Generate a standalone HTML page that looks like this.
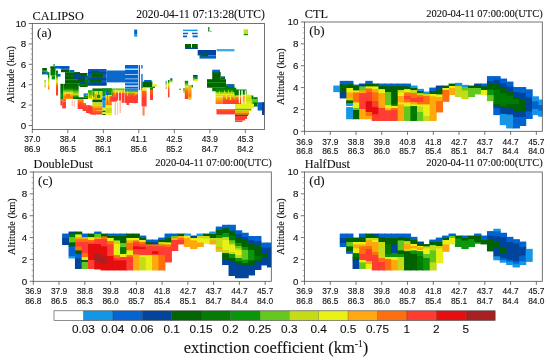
<!DOCTYPE html>
<html><head><meta charset="utf-8"><title>extinction coefficient</title>
<style>
html,body{margin:0;padding:0;background:#fff;}
svg{display:block}
.t{font-family:"Liberation Serif",serif;fill:#111;stroke:#111;stroke-width:0.1px}
.s{font-family:"Liberation Sans",sans-serif;fill:#111;stroke:#111;stroke-width:0.12px}
</style></head><body>
<svg width="550" height="361" viewBox="0 0 550 361">
<defs>
<clipPath id="ca"><rect x="32.3" y="23.5" width="232.2" height="106.1"/></clipPath>
<clipPath id="cb"><rect x="304.5" y="22" width="237.8" height="109.3"/></clipPath>
<clipPath id="cc"><rect x="33.3" y="172" width="238" height="109.3"/></clipPath>
<clipPath id="cd"><rect x="304.5" y="172" width="237.8" height="109.3"/></clipPath>
<filter id="bl" x="-2%" y="-2%" width="104%" height="104%"><feGaussianBlur stdDeviation="0.45"/></filter>
<linearGradient id="g0" x1="0" y1="0" x2="0" y2="1"><stop offset="0.00" stop-color="#64c81e"/><stop offset="0.50" stop-color="#e9f014"/><stop offset="1.00" stop-color="#ffa80f"/></linearGradient>
<linearGradient id="g1" x1="0" y1="0" x2="0" y2="1"><stop offset="0.00" stop-color="#057a05"/><stop offset="0.25" stop-color="#0a960a"/><stop offset="0.45" stop-color="#c3dc14"/><stop offset="0.65" stop-color="#e9f014"/><stop offset="1.00" stop-color="#ff6e0f"/></linearGradient>
<linearGradient id="g2" x1="0" y1="0" x2="0" y2="1"><stop offset="0.00" stop-color="#057a05"/><stop offset="0.20" stop-color="#0a960a"/><stop offset="0.35" stop-color="#c3dc14"/><stop offset="0.45" stop-color="#e9f014"/><stop offset="0.60" stop-color="#ff6e0f"/><stop offset="0.75" stop-color="#ff3c30"/><stop offset="1.00" stop-color="#ff3c30"/></linearGradient>
<linearGradient id="g3" x1="0" y1="0" x2="0" y2="1"><stop offset="0.00" stop-color="#036403"/><stop offset="0.50" stop-color="#057a05"/><stop offset="0.80" stop-color="#0a960a"/><stop offset="1.00" stop-color="#057a05"/></linearGradient>
<linearGradient id="g4" x1="0" y1="0" x2="0" y2="1"><stop offset="0.00" stop-color="#036403"/><stop offset="0.30" stop-color="#057a05"/><stop offset="0.48" stop-color="#64c81e"/><stop offset="0.60" stop-color="#e9f014"/><stop offset="0.75" stop-color="#ffa80f"/><stop offset="0.88" stop-color="#ff6e0f"/><stop offset="1.00" stop-color="#ffa80f"/></linearGradient>
<linearGradient id="g5" x1="0" y1="0" x2="0" y2="1"><stop offset="0.00" stop-color="#036403"/><stop offset="0.35" stop-color="#057a05"/><stop offset="0.55" stop-color="#64c81e"/><stop offset="0.70" stop-color="#c3dc14"/><stop offset="0.85" stop-color="#0a960a"/><stop offset="1.00" stop-color="#036403"/></linearGradient>
<linearGradient id="g6" x1="0" y1="0" x2="0" y2="1"><stop offset="0.00" stop-color="#ff6e0f"/><stop offset="0.40" stop-color="#ff3c30"/><stop offset="1.00" stop-color="#ff3c30"/></linearGradient>
<linearGradient id="g7" x1="0" y1="0" x2="0" y2="1"><stop offset="0.00" stop-color="#ffa80f"/><stop offset="0.30" stop-color="#ff6e0f"/><stop offset="0.60" stop-color="#ff3c30"/><stop offset="1.00" stop-color="#ff3c30"/></linearGradient>
<linearGradient id="g8" x1="0" y1="0" x2="0" y2="1"><stop offset="0.00" stop-color="#ff6e0f"/><stop offset="0.50" stop-color="#ff3c30"/><stop offset="1.00" stop-color="#ff3c30"/></linearGradient>
<linearGradient id="g9" x1="0" y1="0" x2="0" y2="1"><stop offset="0.00" stop-color="#0a960a"/><stop offset="0.40" stop-color="#c3dc14"/><stop offset="1.00" stop-color="#e9f014"/></linearGradient>
<linearGradient id="g10" x1="0" y1="0" x2="0" y2="1"><stop offset="0.00" stop-color="#ff6e0f"/><stop offset="1.00" stop-color="#ff3c30"/></linearGradient>
<linearGradient id="g11" x1="0" y1="0" x2="0" y2="1"><stop offset="0.00" stop-color="#e9f014"/><stop offset="0.50" stop-color="#ffa80f"/><stop offset="1.00" stop-color="#ff6e0f"/></linearGradient>
<linearGradient id="g12" x1="0" y1="0" x2="0" y2="1"><stop offset="0.00" stop-color="#e9f014"/><stop offset="1.00" stop-color="#ffa80f"/></linearGradient>
<linearGradient id="g13" x1="0" y1="0" x2="0" y2="1"><stop offset="0.00" stop-color="#0a960a"/><stop offset="1.00" stop-color="#e9f014"/></linearGradient>
<linearGradient id="g14" x1="0" y1="0" x2="0" y2="1"><stop offset="0.00" stop-color="#ff6e0f"/><stop offset="0.60" stop-color="#ff3c30"/><stop offset="1.00" stop-color="#ff3c30"/></linearGradient>
<linearGradient id="g15" x1="0" y1="0" x2="0" y2="1"><stop offset="0.00" stop-color="#0564d2"/><stop offset="0.30" stop-color="#0a960a"/><stop offset="0.60" stop-color="#e9f014"/><stop offset="1.00" stop-color="#ff3c30"/></linearGradient>
<linearGradient id="g16" x1="0" y1="0" x2="0" y2="1"><stop offset="0.00" stop-color="#057a05"/><stop offset="0.10" stop-color="#0a960a"/><stop offset="0.25" stop-color="#e9f014"/><stop offset="0.50" stop-color="#ff6e0f"/><stop offset="0.80" stop-color="#ff3c30"/><stop offset="1.00" stop-color="#ff3c30"/></linearGradient>
<linearGradient id="g17" x1="0" y1="0" x2="0" y2="1"><stop offset="0.00" stop-color="#03459b"/><stop offset="0.40" stop-color="#0a960a"/><stop offset="1.00" stop-color="#e9f014"/></linearGradient>
<linearGradient id="g18" x1="0" y1="0" x2="0" y2="1"><stop offset="0.00" stop-color="#057a05"/><stop offset="0.10" stop-color="#0a960a"/><stop offset="0.30" stop-color="#e9f014"/><stop offset="0.55" stop-color="#ff6e0f"/><stop offset="0.90" stop-color="#ff3c30"/><stop offset="1.00" stop-color="#ff3c30"/></linearGradient>
<linearGradient id="g19" x1="0" y1="0" x2="0" y2="1"><stop offset="0.00" stop-color="#c3dc14"/><stop offset="0.30" stop-color="#ffa80f"/><stop offset="0.70" stop-color="#ff6e0f"/><stop offset="1.00" stop-color="#e9f014"/></linearGradient>
<linearGradient id="g20" x1="0" y1="0" x2="0" y2="1"><stop offset="0.00" stop-color="#057a05"/><stop offset="1.00" stop-color="#0a960a"/></linearGradient>
<linearGradient id="g21" x1="0" y1="0" x2="0" y2="1"><stop offset="0.00" stop-color="#64c81e"/><stop offset="0.60" stop-color="#e9f014"/><stop offset="1.00" stop-color="#ffa80f"/></linearGradient>
<linearGradient id="g22" x1="0" y1="0" x2="0" y2="1"><stop offset="0.00" stop-color="#e9f014"/><stop offset="0.40" stop-color="#ffa80f"/><stop offset="1.00" stop-color="#ff6e0f"/></linearGradient>
<linearGradient id="g23" x1="0" y1="0" x2="0" y2="1"><stop offset="0.00" stop-color="#ffa80f"/><stop offset="0.30" stop-color="#ff6e0f"/><stop offset="0.70" stop-color="#ff3c30"/><stop offset="1.00" stop-color="#ff3c30"/></linearGradient>
<linearGradient id="g24" x1="0" y1="0" x2="0" y2="1"><stop offset="0.00" stop-color="#e9f014"/><stop offset="0.50" stop-color="#c3dc14"/><stop offset="1.00" stop-color="#e9f014"/></linearGradient>
</defs>
<rect width="550" height="361" fill="#fff"/>
<g filter="url(#bl)">
<g clip-path="url(#ca)"><rect x="42.2" y="68.0" width="4.70" height="2.80" fill="#036403"/>
<rect x="42.2" y="70.8" width="4.70" height="0.60" fill="#0a960a"/>
<rect x="42.2" y="71.4" width="4.70" height="3.00" fill="#0564d2"/>
<rect x="42.2" y="71.4" width="1.30" height="3.00" fill="#057a05"/>
<rect x="44.4" y="80.0" width="1.40" height="7.20" fill="url(#g0)"/>
<rect x="46.9" y="71.5" width="1.10" height="3.50" fill="#0a960a"/>
<rect x="48.0" y="72.2" width="1.40" height="17.20" fill="url(#g1)"/>
<rect x="50.5" y="66.6" width="5.00" height="8.90" fill="#057a05"/>
<rect x="51.7" y="75.5" width="3.30" height="3.90" fill="#0a960a"/>
<rect x="50.5" y="66.4" width="3.50" height="2.00" fill="#036403"/>
<rect x="53.5" y="63.9" width="1.10" height="2.70" fill="#057a05"/>
<rect x="54.8" y="66.0" width="14.60" height="2.60" fill="#0564d2"/>
<rect x="60.0" y="67.3" width="9.40" height="1.30" fill="#03459b"/>
<rect x="56.0" y="70.5" width="2.00" height="25.00" fill="url(#g2)"/>
<rect x="57.7" y="73.9" width="2.80" height="2.70" fill="#0564d2"/>
<rect x="61.0" y="69.2" width="8.40" height="3.00" fill="#036403"/>
<rect x="65.0" y="72.2" width="15.00" height="11.60" fill="#036403"/>
<rect x="69.4" y="70.0" width="4.90" height="2.20" fill="#0564d2"/>
<rect x="74.3" y="72.2" width="5.70" height="1.60" fill="#036403"/>
<rect x="74.3" y="73.8" width="5.70" height="5.00" fill="#03459b"/>
<rect x="65.0" y="75.0" width="9.00" height="1.20" fill="#057a05"/>
<rect x="65.0" y="79.0" width="13.00" height="1.20" fill="#0a960a"/>
<rect x="80.0" y="73.0" width="7.50" height="14.00" fill="#036403"/>
<rect x="78.0" y="76.0" width="9.50" height="2.50" fill="#03459b"/>
<rect x="80.0" y="81.0" width="7.50" height="2.50" fill="#03459b"/>
<rect x="60.4" y="83.8" width="3.10" height="15.20" fill="url(#g3)"/>
<rect x="63.5" y="83.8" width="9.50" height="15.20" fill="url(#g4)"/>
<rect x="73.0" y="83.8" width="5.70" height="15.20" fill="url(#g5)"/>
<rect x="66.0" y="94.0" width="4.00" height="3.50" fill="#ff6e0f"/>
<rect x="76.0" y="97.3" width="12.00" height="1.70" fill="#036403"/>
<rect x="78.7" y="84.0" width="9.30" height="2.20" fill="#057a05"/>
<rect x="83.7" y="93.4" width="12.30" height="3.90" fill="#0a960a"/>
<rect x="86.0" y="94.0" width="4.00" height="2.00" fill="#64c81e"/>
<rect x="83.7" y="94.0" width="4.30" height="1.20" fill="#1496e6"/>
<rect x="60.4" y="99.0" width="1.80" height="6.50" fill="url(#g6)"/>
<rect x="62.2" y="99.0" width="3.80" height="2.50" fill="#ff6e0f"/>
<rect x="62.2" y="101.5" width="3.80" height="6.90" fill="#ff3c30"/>
<rect x="71.8" y="100.6" width="0.70" height="5.40" fill="#ff8c70"/>
<rect x="73.8" y="100.6" width="0.70" height="6.40" fill="#ffa080"/>
<rect x="77.6" y="99.0" width="6.10" height="10.00" fill="url(#g7)"/>
<rect x="82.6" y="103.0" width="3.40" height="8.00" fill="url(#g8)"/>
<rect x="86.0" y="105.0" width="4.00" height="8.00" fill="url(#g8)"/>
<rect x="90.0" y="107.0" width="6.00" height="7.50" fill="url(#g8)"/>
<rect x="88.0" y="69.0" width="18.50" height="16.50" fill="#0a58be"/>
<rect x="88.0" y="72.0" width="18.50" height="1.50" fill="#03459b"/>
<rect x="88.0" y="78.0" width="18.50" height="2.00" fill="#03459b"/>
<rect x="88.0" y="83.0" width="18.50" height="2.50" fill="#03459b"/>
<rect x="91.0" y="71.0" width="8.00" height="1.50" fill="#036403"/>
<rect x="92.0" y="74.0" width="11.00" height="3.50" fill="#036403"/>
<rect x="90.0" y="80.0" width="11.00" height="2.50" fill="#036403"/>
<rect x="85.0" y="75.8" width="3.30" height="9.20" fill="#057a05"/>
<rect x="85.0" y="78.0" width="3.30" height="2.00" fill="#0564d2"/>
<rect x="106.5" y="70.5" width="18.50" height="11.90" fill="#0868cc"/>
<rect x="125.0" y="65.0" width="13.30" height="25.70" fill="#0564d2"/>
<rect x="125.0" y="68.6" width="13.30" height="1.20" fill="#e8f2fc"/>
<rect x="125.0" y="74.0" width="13.30" height="1.00" fill="#9cc8f2"/>
<rect x="125.0" y="78.4" width="13.30" height="0.90" fill="#9cc8f2"/>
<rect x="125.0" y="82.4" width="13.30" height="0.90" fill="#b8d8f6"/>
<rect x="125.0" y="85.3" width="13.30" height="1.50" fill="#c8e0f8"/>
<rect x="125.0" y="88.5" width="13.30" height="0.70" fill="#9cc8f2"/>
<rect x="139.0" y="65.0" width="1.00" height="25.00" fill="#0564d2"/>
<rect x="141.3" y="65.0" width="1.30" height="3.50" fill="#0564d2"/>
<rect x="92.4" y="88.4" width="19.40" height="2.80" fill="#057a05"/>
<rect x="88.0" y="90.6" width="4.40" height="0.90" fill="#057a05"/>
<rect x="88.0" y="90.6" width="4.40" height="8.40" fill="url(#g9)"/>
<rect x="92.4" y="91.2" width="10.00" height="7.80" fill="#c3dc14"/>
<rect x="90.0" y="92.0" width="4.00" height="3.00" fill="#64c81e"/>
<rect x="95.0" y="91.5" width="4.00" height="2.50" fill="#e9f014"/>
<rect x="97.0" y="95.0" width="4.00" height="3.00" fill="#0a960a"/>
<rect x="89.0" y="96.0" width="4.00" height="3.00" fill="#e9f014"/>
<rect x="92.4" y="99.0" width="10.00" height="1.00" fill="#64c81e"/>
<rect x="92.4" y="100.0" width="10.00" height="2.30" fill="#036403"/>
<rect x="92.4" y="102.3" width="10.00" height="3.30" fill="#c3dc14"/>
<rect x="92.4" y="105.6" width="10.00" height="5.00" fill="#ffa80f"/>
<rect x="92.4" y="108.0" width="10.00" height="2.00" fill="#ff6e0f"/>
<rect x="92.4" y="110.6" width="10.00" height="3.90" fill="url(#g10)"/>
<rect x="88.0" y="105.6" width="4.40" height="7.80" fill="#ff3c30"/>
<rect x="102.4" y="88.4" width="3.30" height="7.80" fill="#0a960a"/>
<rect x="102.4" y="96.2" width="3.30" height="11.60" fill="#1496e6"/>
<rect x="102.4" y="98.0" width="3.30" height="2.00" fill="#0564d2"/>
<rect x="102.4" y="107.8" width="3.30" height="2.80" fill="#e9f014"/>
<rect x="102.4" y="110.6" width="3.30" height="1.70" fill="#057a05"/>
<rect x="102.4" y="112.3" width="3.30" height="1.70" fill="#e9f014"/>
<rect x="102.4" y="114.0" width="3.30" height="1.00" fill="#036403"/>
<rect x="105.7" y="88.4" width="6.10" height="6.60" fill="#0a960a"/>
<rect x="106.0" y="90.6" width="2.50" height="7.80" fill="#0564d2"/>
<rect x="105.7" y="95.0" width="6.10" height="10.00" fill="url(#g11)"/>
<rect x="105.7" y="105.0" width="6.10" height="2.80" fill="#e9f014"/>
<rect x="105.7" y="107.8" width="6.10" height="5.60" fill="#c3dc14"/>
<rect x="105.7" y="113.4" width="6.10" height="1.60" fill="#e9f014"/>
<rect x="111.8" y="88.4" width="12.80" height="2.10" fill="#64c81e"/>
<rect x="111.8" y="90.5" width="12.80" height="2.50" fill="url(#g12)"/>
<rect x="111.8" y="93.0" width="6.20" height="3.20" fill="#ff6e0f"/>
<rect x="110.2" y="96.2" width="6.60" height="5.50" fill="#ff3c30"/>
<rect x="116.2" y="93.0" width="5.00" height="7.60" fill="#ff3c30"/>
<rect x="121.2" y="93.0" width="3.40" height="9.80" fill="#ff3c30"/>
<rect x="118.0" y="91.0" width="0.80" height="10.00" fill="#ffffff"/>
<rect x="121.0" y="92.0" width="0.60" height="11.00" fill="#ffffff"/>
<rect x="114.6" y="101.7" width="1.40" height="13.30" fill="#ffc890"/>
<rect x="117.0" y="102.0" width="1.20" height="13.00" fill="#ffd0a0"/>
<rect x="119.5" y="101.0" width="1.50" height="12.00" fill="#ffc0a0"/>
<rect x="125.0" y="90.7" width="13.00" height="2.30" fill="url(#g13)"/>
<rect x="125.0" y="93.0" width="13.00" height="10.00" fill="url(#g6)"/>
<rect x="126.5" y="103.0" width="2.70" height="2.00" fill="#ff3c30"/>
<rect x="133.0" y="100.0" width="3.50" height="3.20" fill="#ff3c30"/>
<rect x="89.5" y="91.5" width="0.80" height="6.50" fill="#0a960a"/>
<rect x="91.2" y="92.0" width="0.60" height="7.00" fill="#64c81e"/>
<rect x="93.5" y="91.2" width="0.70" height="5.80" fill="#057a05"/>
<rect x="96.0" y="92.0" width="0.60" height="7.00" fill="#ffa80f"/>
<rect x="98.2" y="91.2" width="0.70" height="4.80" fill="#0a960a"/>
<rect x="100.3" y="93.0" width="0.70" height="6.00" fill="#e9f014"/>
<rect x="94.8" y="94.0" width="0.70" height="5.00" fill="#ff6e0f"/>
<rect x="107.0" y="95.0" width="0.60" height="9.00" fill="#ff3c30"/>
<rect x="109.5" y="96.0" width="0.60" height="9.00" fill="#ff6e0f"/>
<rect x="112.5" y="90.0" width="0.60" height="6.00" fill="#0a960a"/>
<rect x="115.0" y="89.0" width="0.60" height="6.00" fill="#e9f014"/>
<rect x="123.0" y="89.0" width="0.60" height="5.00" fill="#64c81e"/>
<rect x="127.0" y="91.0" width="0.60" height="5.00" fill="#e9f014"/>
<rect x="130.5" y="90.7" width="0.60" height="4.30" fill="#64c81e"/>
<rect x="134.0" y="91.0" width="0.60" height="5.00" fill="#ffa80f"/>
<rect x="135.0" y="93.2" width="2.50" height="0.90" fill="#e9f014"/>
<rect x="141.3" y="74.0" width="1.30" height="11.00" fill="#0564d2"/>
<rect x="141.3" y="85.0" width="1.30" height="5.70" fill="#057a05"/>
<rect x="144.1" y="80.0" width="7.50" height="2.40" fill="#0564d2"/>
<rect x="142.5" y="81.6" width="9.90" height="5.80" fill="#036403"/>
<rect x="152.4" y="84.0" width="4.20" height="2.60" fill="#e9f014"/>
<rect x="152.4" y="86.6" width="2.60" height="1.40" fill="#0a960a"/>
<rect x="141.6" y="88.2" width="5.00" height="2.50" fill="#e9f014"/>
<rect x="141.6" y="90.7" width="5.00" height="15.80" fill="url(#g8)"/>
<rect x="142.5" y="106.5" width="2.10" height="9.10" fill="#ff8060"/>
<rect x="150.0" y="87.4" width="3.00" height="2.60" fill="#0a960a"/>
<rect x="150.0" y="90.0" width="3.00" height="10.00" fill="url(#g14)"/>
<rect x="165.7" y="80.8" width="0.90" height="8.20" fill="url(#g15)"/>
<rect x="168.0" y="80.0" width="1.50" height="17.40" fill="url(#g16)"/>
<rect x="170.2" y="78.3" width="2.20" height="4.10" fill="url(#g17)"/>
<rect x="179.5" y="88.6" width="1.20" height="1.40" fill="#057a05"/>
<rect x="183.2" y="88.2" width="1.60" height="5.00" fill="url(#g13)"/>
<rect x="184.8" y="80.8" width="3.40" height="18.20" fill="url(#g18)"/>
<rect x="188.2" y="85.0" width="3.30" height="15.00" fill="url(#g19)"/>
<rect x="191.5" y="85.0" width="1.50" height="2.40" fill="#0a960a"/>
<rect x="193.0" y="75.0" width="2.00" height="5.80" fill="url(#g17)"/>
<rect x="134.2" y="29.6" width="3.00" height="5.10" fill="#0564d2"/>
<rect x="134.2" y="34.7" width="3.00" height="2.00" fill="#1496e6"/>
<rect x="183.0" y="29.6" width="14.70" height="1.50" fill="#1496e6"/>
<rect x="183.0" y="32.7" width="5.00" height="1.50" fill="#0564d2"/>
<rect x="192.0" y="32.7" width="5.70" height="1.50" fill="#0564d2"/>
<rect x="183.0" y="35.5" width="4.00" height="1.80" fill="#0564d2"/>
<rect x="192.6" y="35.5" width="5.10" height="1.80" fill="#0564d2"/>
<rect x="185.0" y="44.0" width="6.00" height="5.00" fill="#036403"/>
<rect x="192.0" y="44.0" width="5.70" height="5.00" fill="#036403"/>
<rect x="185.0" y="47.5" width="12.70" height="1.50" fill="#03459b"/>
<rect x="197.7" y="50.0" width="18.30" height="5.50" fill="#03459b"/>
<rect x="199.5" y="55.5" width="16.50" height="3.10" fill="#0564d2"/>
<rect x="200.5" y="54.3" width="7.50" height="2.00" fill="#036403"/>
<rect x="216.7" y="49.0" width="17.80" height="2.40" fill="#3aaef0"/>
<rect x="208.2" y="27.0" width="1.20" height="4.60" fill="#057a05"/>
<rect x="210.5" y="30.8" width="0.80" height="1.20" fill="#0564d2"/>
<rect x="243.7" y="29.0" width="4.30" height="5.00" fill="#c3dc14"/>
<rect x="243.7" y="34.0" width="4.30" height="1.20" fill="#0a960a"/>
<rect x="243.7" y="29.0" width="4.30" height="1.20" fill="#d8e860"/>
<rect x="195.0" y="75.0" width="2.60" height="2.00" fill="#03459b"/>
<rect x="195.0" y="77.0" width="2.60" height="2.50" fill="#0a960a"/>
<rect x="195.0" y="79.5" width="2.60" height="1.50" fill="#e9f014"/>
<rect x="212.2" y="72.0" width="8.50" height="9.00" fill="#036403"/>
<rect x="212.2" y="69.7" width="7.80" height="2.60" fill="#0564d2"/>
<rect x="207.0" y="79.2" width="19.00" height="8.50" fill="#036403"/>
<rect x="207.0" y="82.0" width="19.00" height="1.00" fill="#0a960a"/>
<rect x="220.7" y="76.6" width="4.30" height="2.60" fill="#036403"/>
<rect x="220.7" y="76.6" width="4.30" height="1.40" fill="#0564d2"/>
<rect x="212.2" y="87.7" width="4.30" height="3.50" fill="#057a05"/>
<rect x="225.0" y="84.3" width="9.50" height="5.20" fill="#057a05"/>
<rect x="226.8" y="84.3" width="6.80" height="2.60" fill="#0564d2"/>
<rect x="215.6" y="87.7" width="20.60" height="4.30" fill="url(#g20)"/>
<rect x="215.6" y="92.0" width="20.60" height="4.30" fill="url(#g21)"/>
<rect x="224.0" y="90.5" width="0.80" height="2.50" fill="#e9f014"/>
<rect x="228.0" y="90.0" width="0.80" height="3.00" fill="#c3dc14"/>
<rect x="231.5" y="90.5" width="0.80" height="2.50" fill="#e9f014"/>
<rect x="219.0" y="91.0" width="0.80" height="2.00" fill="#c3dc14"/>
<rect x="234.5" y="89.5" width="12.00" height="6.00" fill="#057a05"/>
<rect x="246.5" y="95.5" width="6.90" height="3.50" fill="#057a05"/>
<rect x="253.4" y="97.2" width="4.20" height="5.10" fill="#057a05"/>
<rect x="215.6" y="96.3" width="6.90" height="7.70" fill="url(#g22)"/>
<rect x="222.5" y="96.3" width="18.80" height="7.70" fill="url(#g23)"/>
<rect x="226.0" y="95.0" width="1.00" height="4.00" fill="#e9f014"/>
<rect x="230.0" y="96.0" width="1.00" height="4.00" fill="#e9f014"/>
<rect x="234.0" y="95.0" width="1.00" height="4.00" fill="#c3dc14"/>
<rect x="241.3" y="94.6" width="10.30" height="9.40" fill="url(#g24)"/>
<rect x="241.3" y="96.0" width="4.40" height="6.00" fill="#ffa80f"/>
<rect x="238.8" y="90.3" width="1.20" height="12.90" fill="#ffffff"/>
<rect x="241.3" y="90.3" width="1.40" height="12.90" fill="#ffffff"/>
<rect x="244.8" y="90.3" width="1.00" height="12.90" fill="#ffffff"/>
<rect x="251.6" y="99.0" width="6.00" height="5.00" fill="#64c81e"/>
<rect x="253.4" y="102.3" width="4.20" height="4.30" fill="#057a05"/>
<rect x="257.6" y="102.3" width="7.40" height="8.20" fill="#0564d2"/>
<rect x="262.0" y="102.3" width="3.00" height="12.70" fill="#03459b"/>
<rect x="216.5" y="109.2" width="18.80" height="5.20" fill="#ff3c30"/>
<rect x="216.5" y="109.2" width="18.80" height="1.30" fill="#ff6e0f"/>
<rect x="235.0" y="104.0" width="19.00" height="4.20" fill="#e9f014"/>
<rect x="235.0" y="108.2" width="16.50" height="2.80" fill="#c3dc14"/>
<rect x="235.0" y="109.4" width="16.00" height="0.60" fill="#0a960a"/>
<rect x="235.0" y="111.0" width="14.00" height="3.70" fill="#ffa80f"/>
<rect x="235.0" y="113.0" width="14.00" height="1.70" fill="#ff6e0f"/>
<rect x="235.0" y="114.7" width="13.00" height="1.30" fill="#057a05"/>
<rect x="235.0" y="116.0" width="12.00" height="3.00" fill="#ff3c30"/>
<rect x="235.0" y="119.0" width="10.00" height="1.50" fill="#ff3c30"/>
<rect x="235.0" y="120.5" width="7.50" height="1.50" fill="#ff3c30"/></g>
<g clip-path="url(#cb)"><rect x="333.35" y="85.55" width="7.30" height="6.60" fill="#1496e6"/>
<rect x="339.75" y="80.85" width="7.30" height="4.20" fill="#0564d2"/>
<rect x="339.75" y="84.15" width="7.30" height="8.90" fill="#036403"/>
<rect x="339.75" y="92.15" width="7.30" height="6.30" fill="#03459b"/>
<rect x="346.15" y="80.85" width="7.30" height="3.60" fill="#0564d2"/>
<rect x="346.15" y="83.55" width="7.30" height="4.90" fill="#036403"/>
<rect x="346.15" y="87.55" width="7.30" height="5.50" fill="#e9f014"/>
<rect x="346.15" y="92.15" width="7.30" height="6.90" fill="#ffa80f"/>
<rect x="346.15" y="98.15" width="7.30" height="2.90" fill="#c3dc14"/>
<rect x="346.15" y="100.15" width="7.30" height="3.60" fill="#036403"/>
<rect x="346.15" y="102.85" width="7.30" height="3.10" fill="#1496e6"/>
<rect x="346.15" y="107.15" width="7.30" height="12.10" fill="#1496e6"/>
<rect x="352.55" y="84.55" width="7.30" height="1.90" fill="#0564d2"/>
<rect x="352.55" y="85.55" width="7.30" height="5.50" fill="#036403"/>
<rect x="352.55" y="90.15" width="7.30" height="2.90" fill="#e9f014"/>
<rect x="352.55" y="92.15" width="7.30" height="10.90" fill="#ff6e0f"/>
<rect x="352.55" y="102.15" width="7.30" height="6.30" fill="#e9f014"/>
<rect x="352.55" y="107.55" width="7.30" height="2.90" fill="#64c81e"/>
<rect x="352.55" y="109.55" width="7.30" height="9.70" fill="#036403"/>
<rect x="358.95" y="83.55" width="7.30" height="3.50" fill="#03459b"/>
<rect x="358.95" y="86.15" width="7.30" height="4.90" fill="#64c81e"/>
<rect x="358.95" y="90.15" width="7.30" height="3.60" fill="#ffa80f"/>
<rect x="358.95" y="92.85" width="7.30" height="16.80" fill="#ff3c30"/>
<rect x="358.95" y="108.75" width="7.30" height="10.50" fill="#ffa80f"/>
<rect x="365.35" y="80.85" width="7.30" height="3.60" fill="#0564d2"/>
<rect x="365.35" y="83.55" width="7.30" height="3.50" fill="#036403"/>
<rect x="365.35" y="86.15" width="7.30" height="2.90" fill="#e9f014"/>
<rect x="365.35" y="88.15" width="7.30" height="4.90" fill="#ff6e0f"/>
<rect x="365.35" y="92.15" width="7.30" height="9.60" fill="#ff3c30"/>
<rect x="365.35" y="100.85" width="7.30" height="11.60" fill="#e60f0f"/>
<rect x="365.35" y="111.55" width="7.30" height="4.90" fill="#ff6e0f"/>
<rect x="365.35" y="115.55" width="7.30" height="3.70" fill="#ffa80f"/>
<rect x="371.75" y="83.55" width="7.30" height="3.50" fill="#036403"/>
<rect x="371.75" y="86.15" width="7.30" height="3.60" fill="#e9f014"/>
<rect x="371.75" y="88.85" width="7.30" height="4.20" fill="#ffa80f"/>
<rect x="371.75" y="92.15" width="7.30" height="9.60" fill="#ff6e0f"/>
<rect x="371.75" y="100.85" width="7.30" height="6.90" fill="#ff3c30"/>
<rect x="371.75" y="106.85" width="7.30" height="8.20" fill="#e60f0f"/>
<rect x="371.75" y="114.15" width="7.30" height="6.80" fill="#ff3c30"/>
<rect x="378.15" y="83.55" width="7.30" height="2.90" fill="#0564d2"/>
<rect x="378.15" y="85.55" width="7.30" height="4.20" fill="#036403"/>
<rect x="378.15" y="88.85" width="7.30" height="4.90" fill="#e9f014"/>
<rect x="378.15" y="92.85" width="7.30" height="15.60" fill="#ffa80f"/>
<rect x="378.15" y="107.55" width="7.30" height="13.40" fill="#ff3c30"/>
<rect x="384.55" y="83.55" width="7.30" height="3.30" fill="#0564d2"/>
<rect x="384.55" y="85.95" width="7.30" height="6.50" fill="#036403"/>
<rect x="384.55" y="91.55" width="7.30" height="14.20" fill="#64c81e"/>
<rect x="384.55" y="104.85" width="7.30" height="4.20" fill="#e9f014"/>
<rect x="384.55" y="108.15" width="7.30" height="2.90" fill="#ffa80f"/>
<rect x="384.55" y="110.15" width="7.30" height="10.80" fill="#ff3c30"/>
<rect x="390.95" y="83.55" width="7.30" height="3.30" fill="#0564d2"/>
<rect x="390.95" y="85.95" width="7.30" height="19.10" fill="#036403"/>
<rect x="390.95" y="104.15" width="7.30" height="2.30" fill="#0a960a"/>
<rect x="390.95" y="105.55" width="7.30" height="2.90" fill="#e9f014"/>
<rect x="390.95" y="107.55" width="7.30" height="2.90" fill="#ff6e0f"/>
<rect x="390.95" y="109.55" width="7.30" height="11.40" fill="#ff3c30"/>
<rect x="397.35" y="83.55" width="7.30" height="3.30" fill="#0564d2"/>
<rect x="397.35" y="85.95" width="7.30" height="4.50" fill="#036403"/>
<rect x="397.35" y="89.55" width="7.30" height="3.50" fill="#c3dc14"/>
<rect x="397.35" y="92.15" width="7.30" height="4.30" fill="#e9f014"/>
<rect x="397.35" y="95.55" width="7.30" height="7.50" fill="#ffa80f"/>
<rect x="397.35" y="102.15" width="7.30" height="2.90" fill="#e9f014"/>
<rect x="397.35" y="104.15" width="7.30" height="16.80" fill="#ffa80f"/>
<rect x="403.75" y="83.55" width="7.30" height="3.30" fill="#0564d2"/>
<rect x="403.75" y="85.95" width="7.30" height="3.80" fill="#036403"/>
<rect x="403.75" y="88.85" width="7.30" height="4.20" fill="#e9f014"/>
<rect x="403.75" y="92.15" width="7.30" height="4.30" fill="#ff6e0f"/>
<rect x="403.75" y="95.55" width="7.30" height="4.20" fill="#ff3c30"/>
<rect x="403.75" y="98.85" width="7.30" height="4.20" fill="#ff6e0f"/>
<rect x="403.75" y="102.15" width="7.30" height="4.90" fill="#e9f014"/>
<rect x="403.75" y="106.15" width="7.30" height="14.80" fill="#64c81e"/>
<rect x="410.15" y="85.55" width="7.30" height="2.90" fill="#1496e6"/>
<rect x="410.15" y="87.55" width="7.30" height="2.90" fill="#036403"/>
<rect x="410.15" y="89.55" width="7.30" height="4.20" fill="#c3dc14"/>
<rect x="410.15" y="92.85" width="7.30" height="5.60" fill="#ff6e0f"/>
<rect x="410.15" y="97.55" width="7.30" height="4.90" fill="#ff3c30"/>
<rect x="410.15" y="101.55" width="7.30" height="3.50" fill="#ffa80f"/>
<rect x="410.15" y="104.15" width="7.30" height="2.30" fill="#e9f014"/>
<rect x="410.15" y="105.55" width="7.30" height="15.40" fill="#057a05"/>
<rect x="416.55" y="88.85" width="7.30" height="2.90" fill="#1496e6"/>
<rect x="416.55" y="90.85" width="7.30" height="2.90" fill="#036403"/>
<rect x="416.55" y="92.85" width="7.30" height="2.90" fill="#c3dc14"/>
<rect x="416.55" y="94.85" width="7.30" height="2.90" fill="#ff6e0f"/>
<rect x="416.55" y="96.85" width="7.30" height="5.60" fill="#ff3c30"/>
<rect x="416.55" y="101.55" width="7.30" height="3.50" fill="#ff6e0f"/>
<rect x="416.55" y="104.15" width="7.30" height="2.90" fill="#e9f014"/>
<rect x="416.55" y="106.15" width="7.30" height="6.30" fill="#c3dc14"/>
<rect x="416.55" y="111.55" width="7.30" height="9.40" fill="#64c81e"/>
<rect x="422.95" y="91.55" width="7.30" height="2.90" fill="#1496e6"/>
<rect x="422.95" y="93.55" width="7.30" height="2.90" fill="#c3dc14"/>
<rect x="422.95" y="95.55" width="7.30" height="9.50" fill="#ff6e0f"/>
<rect x="422.95" y="104.15" width="7.30" height="12.30" fill="#e9f014"/>
<rect x="422.95" y="115.55" width="7.30" height="5.40" fill="#c3dc14"/>
<rect x="429.35" y="87.55" width="7.30" height="4.20" fill="#0564d2"/>
<rect x="429.35" y="90.85" width="7.30" height="3.60" fill="#036403"/>
<rect x="429.35" y="93.55" width="7.30" height="3.50" fill="#e9f014"/>
<rect x="429.35" y="96.15" width="7.30" height="24.80" fill="#ffa80f"/>
<rect x="435.75" y="85.55" width="7.30" height="4.20" fill="#03459b"/>
<rect x="435.75" y="88.85" width="7.30" height="6.20" fill="#036403"/>
<rect x="435.75" y="94.15" width="7.30" height="3.60" fill="#e9f014"/>
<rect x="435.75" y="96.85" width="7.30" height="4.90" fill="#ffa80f"/>
<rect x="435.75" y="100.85" width="7.30" height="11.60" fill="#ff6e0f"/>
<rect x="442.15" y="85.55" width="7.30" height="2.90" fill="#036403"/>
<rect x="442.15" y="87.55" width="7.30" height="2.90" fill="#e9f014"/>
<rect x="442.15" y="89.55" width="7.30" height="12.20" fill="#ff6e0f"/>
<rect x="448.55" y="83.55" width="7.30" height="2.90" fill="#036403"/>
<rect x="448.55" y="85.55" width="7.30" height="2.90" fill="#e9f014"/>
<rect x="448.55" y="87.55" width="7.30" height="7.50" fill="#ffa80f"/>
<rect x="454.95" y="82.85" width="7.30" height="3.60" fill="#1496e6"/>
<rect x="454.95" y="85.55" width="7.30" height="11.50" fill="#c3dc14"/>
<rect x="461.35" y="84.85" width="7.30" height="2.90" fill="#1496e6"/>
<rect x="461.35" y="86.85" width="7.30" height="4.20" fill="#64c81e"/>
<rect x="461.35" y="90.15" width="7.30" height="8.90" fill="#c3dc14"/>
<rect x="467.75" y="85.55" width="7.30" height="2.90" fill="#036403"/>
<rect x="467.75" y="87.55" width="7.30" height="9.50" fill="#64c81e"/>
<rect x="474.15" y="83.55" width="7.30" height="2.90" fill="#03459b"/>
<rect x="474.15" y="85.55" width="7.30" height="2.90" fill="#036403"/>
<rect x="474.15" y="87.55" width="7.30" height="6.90" fill="#64c81e"/>
<rect x="480.55" y="83.55" width="7.30" height="3.50" fill="#0564d2"/>
<rect x="480.55" y="86.15" width="7.30" height="4.30" fill="#036403"/>
<rect x="480.55" y="89.55" width="7.30" height="5.50" fill="#e9f014"/>
<rect x="486.95" y="76.15" width="7.30" height="5.60" fill="#0564d2"/>
<rect x="486.95" y="80.85" width="7.30" height="3.20" fill="#03459b"/>
<rect x="486.95" y="83.15" width="7.30" height="7.10" fill="#036403"/>
<rect x="486.95" y="89.35" width="7.30" height="6.40" fill="#0a960a"/>
<rect x="486.95" y="94.85" width="7.30" height="6.30" fill="#64c81e"/>
<rect x="493.35" y="76.15" width="7.30" height="4.10" fill="#0564d2"/>
<rect x="493.35" y="79.35" width="7.30" height="5.50" fill="#03459b"/>
<rect x="493.35" y="83.95" width="7.30" height="6.30" fill="#036403"/>
<rect x="493.35" y="89.35" width="7.30" height="15.10" fill="#057a05"/>
<rect x="493.35" y="103.55" width="7.30" height="2.30" fill="#036403"/>
<rect x="493.35" y="104.95" width="7.30" height="4.00" fill="#03459b"/>
<rect x="493.35" y="108.05" width="7.30" height="7.10" fill="#0564d2"/>
<rect x="499.75" y="78.55" width="7.30" height="5.50" fill="#0564d2"/>
<rect x="499.75" y="83.15" width="7.30" height="5.60" fill="#03459b"/>
<rect x="499.75" y="87.85" width="7.30" height="5.90" fill="#036403"/>
<rect x="499.75" y="92.85" width="7.30" height="13.60" fill="#057a05"/>
<rect x="499.75" y="105.55" width="7.30" height="2.60" fill="#036403"/>
<rect x="499.75" y="107.25" width="7.30" height="7.10" fill="#03459b"/>
<rect x="499.75" y="113.45" width="7.30" height="11.70" fill="#1496e6"/>
<rect x="506.15" y="81.55" width="7.30" height="5.60" fill="#0564d2"/>
<rect x="506.15" y="86.25" width="7.30" height="6.40" fill="#03459b"/>
<rect x="506.15" y="91.75" width="7.30" height="4.40" fill="#036403"/>
<rect x="506.15" y="95.25" width="7.30" height="9.20" fill="#057a05"/>
<rect x="506.15" y="103.55" width="7.30" height="5.40" fill="#036403"/>
<rect x="506.15" y="108.05" width="7.30" height="7.10" fill="#03459b"/>
<rect x="506.15" y="114.25" width="7.30" height="14.20" fill="#1496e6"/>
<rect x="512.55" y="87.05" width="7.30" height="5.60" fill="#0564d2"/>
<rect x="512.55" y="91.75" width="7.30" height="6.30" fill="#03459b"/>
<rect x="512.55" y="97.15" width="7.30" height="2.60" fill="#036403"/>
<rect x="512.55" y="98.85" width="7.30" height="5.60" fill="#057a05"/>
<rect x="512.55" y="103.55" width="7.30" height="8.50" fill="#036403"/>
<rect x="512.55" y="111.15" width="7.30" height="6.30" fill="#03459b"/>
<rect x="512.55" y="116.55" width="7.30" height="11.90" fill="#0564d2"/>
<rect x="518.95" y="87.05" width="7.30" height="6.40" fill="#0564d2"/>
<rect x="518.95" y="92.55" width="7.30" height="7.90" fill="#03459b"/>
<rect x="518.95" y="99.55" width="7.30" height="12.50" fill="#036403"/>
<rect x="518.95" y="111.15" width="7.30" height="6.30" fill="#03459b"/>
<rect x="518.95" y="116.55" width="7.30" height="9.40" fill="#0564d2"/>
<rect x="525.35" y="89.35" width="7.30" height="8.70" fill="#0564d2"/>
<rect x="525.35" y="97.15" width="7.30" height="14.90" fill="#03459b"/>
<rect x="525.35" y="111.15" width="7.30" height="7.80" fill="#0564d2"/>
<rect x="531.75" y="96.35" width="7.30" height="5.60" fill="#1496e6"/>
<rect x="531.75" y="101.05" width="7.30" height="8.60" fill="#0564d2"/>
<rect x="531.75" y="108.75" width="7.30" height="6.40" fill="#1496e6"/>
<rect x="538.15" y="99.55" width="4.60" height="6.30" fill="#1496e6"/>
<rect x="538.15" y="104.95" width="4.60" height="6.30" fill="#0564d2"/>
<rect x="538.15" y="110.35" width="4.60" height="6.30" fill="#1496e6"/>
<rect x="333.80" y="86.00" width="6.40" height="5.70" fill="#1496e6"/>
<rect x="340.20" y="81.30" width="6.40" height="3.30" fill="#0564d2"/>
<rect x="340.20" y="84.60" width="6.40" height="8.00" fill="#036403"/>
<rect x="340.20" y="92.60" width="6.40" height="5.40" fill="#03459b"/>
<rect x="346.60" y="81.30" width="6.40" height="2.70" fill="#0564d2"/>
<rect x="346.60" y="84.00" width="6.40" height="4.00" fill="#036403"/>
<rect x="346.60" y="88.00" width="6.40" height="4.60" fill="#e9f014"/>
<rect x="346.60" y="92.60" width="6.40" height="6.00" fill="#ffa80f"/>
<rect x="346.60" y="98.60" width="6.40" height="2.00" fill="#c3dc14"/>
<rect x="346.60" y="100.60" width="6.40" height="2.70" fill="#036403"/>
<rect x="346.60" y="103.30" width="6.40" height="2.20" fill="#1496e6"/>
<rect x="346.60" y="107.60" width="6.40" height="11.20" fill="#1496e6"/>
<rect x="353.00" y="85.00" width="6.40" height="1.00" fill="#0564d2"/>
<rect x="353.00" y="86.00" width="6.40" height="4.60" fill="#036403"/>
<rect x="353.00" y="90.60" width="6.40" height="2.00" fill="#e9f014"/>
<rect x="353.00" y="92.60" width="6.40" height="10.00" fill="#ff6e0f"/>
<rect x="353.00" y="102.60" width="6.40" height="5.40" fill="#e9f014"/>
<rect x="353.00" y="108.00" width="6.40" height="2.00" fill="#64c81e"/>
<rect x="353.00" y="110.00" width="6.40" height="8.80" fill="#036403"/>
<rect x="359.40" y="84.00" width="6.40" height="2.60" fill="#03459b"/>
<rect x="359.40" y="86.60" width="6.40" height="4.00" fill="#64c81e"/>
<rect x="359.40" y="90.60" width="6.40" height="2.70" fill="#ffa80f"/>
<rect x="359.40" y="93.30" width="6.40" height="15.90" fill="#ff3c30"/>
<rect x="359.40" y="109.20" width="6.40" height="9.60" fill="#ffa80f"/>
<rect x="365.80" y="81.30" width="6.40" height="2.70" fill="#0564d2"/>
<rect x="365.80" y="84.00" width="6.40" height="2.60" fill="#036403"/>
<rect x="365.80" y="86.60" width="6.40" height="2.00" fill="#e9f014"/>
<rect x="365.80" y="88.60" width="6.40" height="4.00" fill="#ff6e0f"/>
<rect x="365.80" y="92.60" width="6.40" height="8.70" fill="#ff3c30"/>
<rect x="365.80" y="101.30" width="6.40" height="10.70" fill="#e60f0f"/>
<rect x="365.80" y="112.00" width="6.40" height="4.00" fill="#ff6e0f"/>
<rect x="365.80" y="116.00" width="6.40" height="2.80" fill="#ffa80f"/>
<rect x="372.20" y="84.00" width="6.40" height="2.60" fill="#036403"/>
<rect x="372.20" y="86.60" width="6.40" height="2.70" fill="#e9f014"/>
<rect x="372.20" y="89.30" width="6.40" height="3.30" fill="#ffa80f"/>
<rect x="372.20" y="92.60" width="6.40" height="8.70" fill="#ff6e0f"/>
<rect x="372.20" y="101.30" width="6.40" height="6.00" fill="#ff3c30"/>
<rect x="372.20" y="107.30" width="6.40" height="7.30" fill="#e60f0f"/>
<rect x="372.20" y="114.60" width="6.40" height="5.90" fill="#ff3c30"/>
<rect x="378.60" y="84.00" width="6.40" height="2.00" fill="#0564d2"/>
<rect x="378.60" y="86.00" width="6.40" height="3.30" fill="#036403"/>
<rect x="378.60" y="89.30" width="6.40" height="4.00" fill="#e9f014"/>
<rect x="378.60" y="93.30" width="6.40" height="14.70" fill="#ffa80f"/>
<rect x="378.60" y="108.00" width="6.40" height="12.50" fill="#ff3c30"/>
<rect x="385.00" y="84.00" width="6.40" height="2.40" fill="#0564d2"/>
<rect x="385.00" y="86.40" width="6.40" height="5.60" fill="#036403"/>
<rect x="385.00" y="92.00" width="6.40" height="13.30" fill="#64c81e"/>
<rect x="385.00" y="105.30" width="6.40" height="3.30" fill="#e9f014"/>
<rect x="385.00" y="108.60" width="6.40" height="2.00" fill="#ffa80f"/>
<rect x="385.00" y="110.60" width="6.40" height="9.90" fill="#ff3c30"/>
<rect x="391.40" y="84.00" width="6.40" height="2.40" fill="#0564d2"/>
<rect x="391.40" y="86.40" width="6.40" height="18.20" fill="#036403"/>
<rect x="391.40" y="104.60" width="6.40" height="1.40" fill="#0a960a"/>
<rect x="391.40" y="106.00" width="6.40" height="2.00" fill="#e9f014"/>
<rect x="391.40" y="108.00" width="6.40" height="2.00" fill="#ff6e0f"/>
<rect x="391.40" y="110.00" width="6.40" height="10.50" fill="#ff3c30"/>
<rect x="397.80" y="84.00" width="6.40" height="2.40" fill="#0564d2"/>
<rect x="397.80" y="86.40" width="6.40" height="3.60" fill="#036403"/>
<rect x="397.80" y="90.00" width="6.40" height="2.60" fill="#c3dc14"/>
<rect x="397.80" y="92.60" width="6.40" height="3.40" fill="#e9f014"/>
<rect x="397.80" y="96.00" width="6.40" height="6.60" fill="#ffa80f"/>
<rect x="397.80" y="102.60" width="6.40" height="2.00" fill="#e9f014"/>
<rect x="397.80" y="104.60" width="6.40" height="15.90" fill="#ffa80f"/>
<rect x="404.20" y="84.00" width="6.40" height="2.40" fill="#0564d2"/>
<rect x="404.20" y="86.40" width="6.40" height="2.90" fill="#036403"/>
<rect x="404.20" y="89.30" width="6.40" height="3.30" fill="#e9f014"/>
<rect x="404.20" y="92.60" width="6.40" height="3.40" fill="#ff6e0f"/>
<rect x="404.20" y="96.00" width="6.40" height="3.30" fill="#ff3c30"/>
<rect x="404.20" y="99.30" width="6.40" height="3.30" fill="#ff6e0f"/>
<rect x="404.20" y="102.60" width="6.40" height="4.00" fill="#e9f014"/>
<rect x="404.20" y="106.60" width="6.40" height="13.90" fill="#64c81e"/>
<rect x="410.60" y="86.00" width="6.40" height="2.00" fill="#1496e6"/>
<rect x="410.60" y="88.00" width="6.40" height="2.00" fill="#036403"/>
<rect x="410.60" y="90.00" width="6.40" height="3.30" fill="#c3dc14"/>
<rect x="410.60" y="93.30" width="6.40" height="4.70" fill="#ff6e0f"/>
<rect x="410.60" y="98.00" width="6.40" height="4.00" fill="#ff3c30"/>
<rect x="410.60" y="102.00" width="6.40" height="2.60" fill="#ffa80f"/>
<rect x="410.60" y="104.60" width="6.40" height="1.40" fill="#e9f014"/>
<rect x="410.60" y="106.00" width="6.40" height="14.50" fill="#057a05"/>
<rect x="417.00" y="89.30" width="6.40" height="2.00" fill="#1496e6"/>
<rect x="417.00" y="91.30" width="6.40" height="2.00" fill="#036403"/>
<rect x="417.00" y="93.30" width="6.40" height="2.00" fill="#c3dc14"/>
<rect x="417.00" y="95.30" width="6.40" height="2.00" fill="#ff6e0f"/>
<rect x="417.00" y="97.30" width="6.40" height="4.70" fill="#ff3c30"/>
<rect x="417.00" y="102.00" width="6.40" height="2.60" fill="#ff6e0f"/>
<rect x="417.00" y="104.60" width="6.40" height="2.00" fill="#e9f014"/>
<rect x="417.00" y="106.60" width="6.40" height="5.40" fill="#c3dc14"/>
<rect x="417.00" y="112.00" width="6.40" height="8.50" fill="#64c81e"/>
<rect x="423.40" y="92.00" width="6.40" height="2.00" fill="#1496e6"/>
<rect x="423.40" y="94.00" width="6.40" height="2.00" fill="#c3dc14"/>
<rect x="423.40" y="96.00" width="6.40" height="8.60" fill="#ff6e0f"/>
<rect x="423.40" y="104.60" width="6.40" height="11.40" fill="#e9f014"/>
<rect x="423.40" y="116.00" width="6.40" height="4.50" fill="#c3dc14"/>
<rect x="429.80" y="88.00" width="6.40" height="3.30" fill="#0564d2"/>
<rect x="429.80" y="91.30" width="6.40" height="2.70" fill="#036403"/>
<rect x="429.80" y="94.00" width="6.40" height="2.60" fill="#e9f014"/>
<rect x="429.80" y="96.60" width="6.40" height="23.90" fill="#ffa80f"/>
<rect x="436.20" y="86.00" width="6.40" height="3.30" fill="#03459b"/>
<rect x="436.20" y="89.30" width="6.40" height="5.30" fill="#036403"/>
<rect x="436.20" y="94.60" width="6.40" height="2.70" fill="#e9f014"/>
<rect x="436.20" y="97.30" width="6.40" height="4.00" fill="#ffa80f"/>
<rect x="436.20" y="101.30" width="6.40" height="10.70" fill="#ff6e0f"/>
<rect x="442.60" y="86.00" width="6.40" height="2.00" fill="#036403"/>
<rect x="442.60" y="88.00" width="6.40" height="2.00" fill="#e9f014"/>
<rect x="442.60" y="90.00" width="6.40" height="11.30" fill="#ff6e0f"/>
<rect x="449.00" y="84.00" width="6.40" height="2.00" fill="#036403"/>
<rect x="449.00" y="86.00" width="6.40" height="2.00" fill="#e9f014"/>
<rect x="449.00" y="88.00" width="6.40" height="6.60" fill="#ffa80f"/>
<rect x="455.40" y="83.30" width="6.40" height="2.70" fill="#1496e6"/>
<rect x="455.40" y="86.00" width="6.40" height="10.60" fill="#c3dc14"/>
<rect x="461.80" y="85.30" width="6.40" height="2.00" fill="#1496e6"/>
<rect x="461.80" y="87.30" width="6.40" height="3.30" fill="#64c81e"/>
<rect x="461.80" y="90.60" width="6.40" height="8.00" fill="#c3dc14"/>
<rect x="468.20" y="86.00" width="6.40" height="2.00" fill="#036403"/>
<rect x="468.20" y="88.00" width="6.40" height="8.60" fill="#64c81e"/>
<rect x="474.60" y="84.00" width="6.40" height="2.00" fill="#03459b"/>
<rect x="474.60" y="86.00" width="6.40" height="2.00" fill="#036403"/>
<rect x="474.60" y="88.00" width="6.40" height="6.00" fill="#64c81e"/>
<rect x="481.00" y="84.00" width="6.40" height="2.60" fill="#0564d2"/>
<rect x="481.00" y="86.60" width="6.40" height="3.40" fill="#036403"/>
<rect x="481.00" y="90.00" width="6.40" height="4.60" fill="#e9f014"/>
<rect x="487.40" y="76.60" width="6.40" height="4.70" fill="#0564d2"/>
<rect x="487.40" y="81.30" width="6.40" height="2.30" fill="#03459b"/>
<rect x="487.40" y="83.60" width="6.40" height="6.20" fill="#036403"/>
<rect x="487.40" y="89.80" width="6.40" height="5.50" fill="#0a960a"/>
<rect x="487.40" y="95.30" width="6.40" height="5.40" fill="#64c81e"/>
<rect x="493.80" y="76.60" width="6.40" height="3.20" fill="#0564d2"/>
<rect x="493.80" y="79.80" width="6.40" height="4.60" fill="#03459b"/>
<rect x="493.80" y="84.40" width="6.40" height="5.40" fill="#036403"/>
<rect x="493.80" y="89.80" width="6.40" height="14.20" fill="#057a05"/>
<rect x="493.80" y="104.00" width="6.40" height="1.40" fill="#036403"/>
<rect x="493.80" y="105.40" width="6.40" height="3.10" fill="#03459b"/>
<rect x="493.80" y="108.50" width="6.40" height="6.20" fill="#0564d2"/>
<rect x="500.20" y="79.00" width="6.40" height="4.60" fill="#0564d2"/>
<rect x="500.20" y="83.60" width="6.40" height="4.70" fill="#03459b"/>
<rect x="500.20" y="88.30" width="6.40" height="5.00" fill="#036403"/>
<rect x="500.20" y="93.30" width="6.40" height="12.70" fill="#057a05"/>
<rect x="500.20" y="106.00" width="6.40" height="1.70" fill="#036403"/>
<rect x="500.20" y="107.70" width="6.40" height="6.20" fill="#03459b"/>
<rect x="500.20" y="113.90" width="6.40" height="10.80" fill="#1496e6"/>
<rect x="506.60" y="82.00" width="6.40" height="4.70" fill="#0564d2"/>
<rect x="506.60" y="86.70" width="6.40" height="5.50" fill="#03459b"/>
<rect x="506.60" y="92.20" width="6.40" height="3.50" fill="#036403"/>
<rect x="506.60" y="95.70" width="6.40" height="8.30" fill="#057a05"/>
<rect x="506.60" y="104.00" width="6.40" height="4.50" fill="#036403"/>
<rect x="506.60" y="108.50" width="6.40" height="6.20" fill="#03459b"/>
<rect x="506.60" y="114.70" width="6.40" height="13.30" fill="#1496e6"/>
<rect x="513.00" y="87.50" width="6.40" height="4.70" fill="#0564d2"/>
<rect x="513.00" y="92.20" width="6.40" height="5.40" fill="#03459b"/>
<rect x="513.00" y="97.60" width="6.40" height="1.70" fill="#036403"/>
<rect x="513.00" y="99.30" width="6.40" height="4.70" fill="#057a05"/>
<rect x="513.00" y="104.00" width="6.40" height="7.60" fill="#036403"/>
<rect x="513.00" y="111.60" width="6.40" height="5.40" fill="#03459b"/>
<rect x="513.00" y="117.00" width="6.40" height="11.00" fill="#0564d2"/>
<rect x="519.40" y="87.50" width="6.40" height="5.50" fill="#0564d2"/>
<rect x="519.40" y="93.00" width="6.40" height="7.00" fill="#03459b"/>
<rect x="519.40" y="100.00" width="6.40" height="11.60" fill="#036403"/>
<rect x="519.40" y="111.60" width="6.40" height="5.40" fill="#03459b"/>
<rect x="519.40" y="117.00" width="6.40" height="8.50" fill="#0564d2"/>
<rect x="525.80" y="89.80" width="6.40" height="7.80" fill="#0564d2"/>
<rect x="525.80" y="97.60" width="6.40" height="14.00" fill="#03459b"/>
<rect x="525.80" y="111.60" width="6.40" height="6.90" fill="#0564d2"/>
<rect x="532.20" y="96.80" width="6.40" height="4.70" fill="#1496e6"/>
<rect x="532.20" y="101.50" width="6.40" height="7.70" fill="#0564d2"/>
<rect x="532.20" y="109.20" width="6.40" height="5.50" fill="#1496e6"/>
<rect x="538.60" y="100.00" width="3.70" height="5.40" fill="#1496e6"/>
<rect x="538.60" y="105.40" width="3.70" height="5.40" fill="#0564d2"/>
<rect x="538.60" y="110.80" width="3.70" height="5.40" fill="#1496e6"/></g>
<g clip-path="url(#cc)"><rect x="62.15" y="233.55" width="7.30" height="4.90" fill="#0564d2"/>
<rect x="62.15" y="237.55" width="7.30" height="7.50" fill="#03459b"/>
<rect x="68.55" y="231.55" width="7.30" height="2.90" fill="#03459b"/>
<rect x="68.55" y="233.55" width="7.30" height="4.20" fill="#057a05"/>
<rect x="68.55" y="236.85" width="7.30" height="6.20" fill="#64c81e"/>
<rect x="68.55" y="242.15" width="7.30" height="4.90" fill="#036403"/>
<rect x="68.55" y="246.15" width="7.30" height="10.30" fill="#0564d2"/>
<rect x="68.55" y="255.55" width="7.30" height="2.90" fill="#1496e6"/>
<rect x="74.95" y="231.55" width="7.30" height="3.50" fill="#036403"/>
<rect x="74.95" y="234.15" width="7.30" height="3.60" fill="#e9f014"/>
<rect x="74.95" y="236.85" width="7.30" height="2.90" fill="#ffa80f"/>
<rect x="74.95" y="238.85" width="7.30" height="3.60" fill="#ff6e0f"/>
<rect x="74.95" y="241.55" width="7.30" height="5.50" fill="#ff3c30"/>
<rect x="74.95" y="246.15" width="7.30" height="4.90" fill="#ff6e0f"/>
<rect x="74.95" y="250.15" width="7.30" height="4.30" fill="#036403"/>
<rect x="74.95" y="253.55" width="7.30" height="5.50" fill="#0564d2"/>
<rect x="74.95" y="258.15" width="7.30" height="10.80" fill="#03459b"/>
<rect x="81.35" y="233.55" width="7.30" height="4.20" fill="#0564d2"/>
<rect x="81.35" y="236.85" width="7.30" height="2.90" fill="#ffa80f"/>
<rect x="81.35" y="238.85" width="7.30" height="3.60" fill="#ff6e0f"/>
<rect x="81.35" y="241.55" width="7.30" height="12.20" fill="#ff3c30"/>
<rect x="81.35" y="252.85" width="7.30" height="4.80" fill="#ff6e0f"/>
<rect x="81.35" y="256.75" width="7.30" height="3.70" fill="#e9f014"/>
<rect x="81.35" y="259.55" width="7.30" height="2.90" fill="#036403"/>
<rect x="81.35" y="261.55" width="7.30" height="7.40" fill="#64c81e"/>
<rect x="87.75" y="233.55" width="7.30" height="4.20" fill="#036403"/>
<rect x="87.75" y="236.85" width="7.30" height="3.60" fill="#e9f014"/>
<rect x="87.75" y="239.55" width="7.30" height="3.50" fill="#ff6e0f"/>
<rect x="87.75" y="242.15" width="7.30" height="2.30" fill="#ff3c30"/>
<rect x="87.75" y="243.55" width="7.30" height="16.90" fill="#e60f0f"/>
<rect x="87.75" y="259.55" width="7.30" height="9.40" fill="#ff3c30"/>
<rect x="94.15" y="231.55" width="7.30" height="2.90" fill="#0564d2"/>
<rect x="94.15" y="233.55" width="7.30" height="4.20" fill="#64c81e"/>
<rect x="94.15" y="236.85" width="7.30" height="2.90" fill="#ffa80f"/>
<rect x="94.15" y="238.85" width="7.30" height="5.60" fill="#ff3c30"/>
<rect x="94.15" y="243.55" width="7.30" height="10.90" fill="#e60f0f"/>
<rect x="94.15" y="253.55" width="7.30" height="9.50" fill="#a82020"/>
<rect x="94.15" y="262.15" width="7.30" height="7.30" fill="#e60f0f"/>
<rect x="100.55" y="233.55" width="7.30" height="3.50" fill="#036403"/>
<rect x="100.55" y="236.15" width="7.30" height="3.60" fill="#ff6e0f"/>
<rect x="100.55" y="238.85" width="7.30" height="8.20" fill="#ff3c30"/>
<rect x="100.55" y="246.15" width="7.30" height="11.50" fill="#e60f0f"/>
<rect x="100.55" y="256.75" width="7.30" height="7.70" fill="#a82020"/>
<rect x="100.55" y="263.55" width="7.30" height="6.90" fill="#e60f0f"/>
<rect x="106.95" y="233.55" width="7.30" height="2.90" fill="#0564d2"/>
<rect x="106.95" y="235.55" width="7.30" height="2.90" fill="#036403"/>
<rect x="106.95" y="237.55" width="7.30" height="4.20" fill="#e9f014"/>
<rect x="106.95" y="240.85" width="7.30" height="4.20" fill="#ff6e0f"/>
<rect x="106.95" y="244.15" width="7.30" height="12.30" fill="#ff3c30"/>
<rect x="106.95" y="255.55" width="7.30" height="14.90" fill="#e60f0f"/>
<rect x="113.35" y="233.55" width="7.30" height="2.90" fill="#0564d2"/>
<rect x="113.35" y="235.55" width="7.30" height="5.50" fill="#036403"/>
<rect x="113.35" y="240.15" width="7.30" height="4.30" fill="#c3dc14"/>
<rect x="113.35" y="243.55" width="7.30" height="12.20" fill="#e9f014"/>
<rect x="113.35" y="254.85" width="7.30" height="3.60" fill="#ff6e0f"/>
<rect x="113.35" y="257.55" width="7.30" height="3.50" fill="#ff3c30"/>
<rect x="113.35" y="260.15" width="7.30" height="10.30" fill="#e60f0f"/>
<rect x="119.75" y="233.55" width="7.30" height="2.90" fill="#0564d2"/>
<rect x="119.75" y="235.55" width="7.30" height="8.20" fill="#036403"/>
<rect x="119.75" y="242.85" width="7.30" height="4.90" fill="#64c81e"/>
<rect x="119.75" y="246.85" width="7.30" height="7.60" fill="#057a05"/>
<rect x="119.75" y="253.55" width="7.30" height="4.10" fill="#e9f014"/>
<rect x="119.75" y="256.75" width="7.30" height="4.30" fill="#ff3c30"/>
<rect x="119.75" y="260.15" width="7.30" height="10.30" fill="#e60f0f"/>
<rect x="126.15" y="233.55" width="7.30" height="4.90" fill="#036403"/>
<rect x="126.15" y="237.55" width="7.30" height="3.50" fill="#e9f014"/>
<rect x="126.15" y="240.15" width="7.30" height="3.60" fill="#ffa80f"/>
<rect x="126.15" y="242.85" width="7.30" height="8.20" fill="#ff6e0f"/>
<rect x="126.15" y="250.15" width="7.30" height="5.60" fill="#e9f014"/>
<rect x="126.15" y="254.85" width="7.30" height="2.80" fill="#ff6e0f"/>
<rect x="126.15" y="256.75" width="7.30" height="13.70" fill="#ff3c30"/>
<rect x="132.55" y="233.55" width="7.30" height="4.90" fill="#036403"/>
<rect x="132.55" y="237.55" width="7.30" height="3.50" fill="#e9f014"/>
<rect x="132.55" y="240.15" width="7.30" height="2.90" fill="#ff6e0f"/>
<rect x="132.55" y="242.15" width="7.30" height="4.90" fill="#ff3c30"/>
<rect x="132.55" y="246.15" width="7.30" height="3.60" fill="#e60f0f"/>
<rect x="132.55" y="248.85" width="7.30" height="6.20" fill="#ff3c30"/>
<rect x="132.55" y="254.15" width="7.30" height="16.30" fill="#ffa80f"/>
<rect x="138.95" y="235.55" width="7.30" height="2.90" fill="#0564d2"/>
<rect x="138.95" y="237.55" width="7.30" height="2.90" fill="#036403"/>
<rect x="138.95" y="239.55" width="7.30" height="2.90" fill="#e9f014"/>
<rect x="138.95" y="241.55" width="7.30" height="3.50" fill="#ff6e0f"/>
<rect x="138.95" y="244.15" width="7.30" height="3.60" fill="#ff3c30"/>
<rect x="138.95" y="246.85" width="7.30" height="2.90" fill="#e60f0f"/>
<rect x="138.95" y="248.85" width="7.30" height="6.90" fill="#ff3c30"/>
<rect x="138.95" y="254.85" width="7.30" height="2.80" fill="#e9f014"/>
<rect x="138.95" y="256.75" width="7.30" height="13.70" fill="#c3dc14"/>
<rect x="145.35" y="239.55" width="7.30" height="2.90" fill="#0564d2"/>
<rect x="145.35" y="241.55" width="7.30" height="3.50" fill="#036403"/>
<rect x="145.35" y="244.15" width="7.30" height="2.30" fill="#ff6e0f"/>
<rect x="145.35" y="245.55" width="7.30" height="10.20" fill="#ff3c30"/>
<rect x="145.35" y="254.85" width="7.30" height="15.60" fill="#e9f014"/>
<rect x="151.75" y="239.55" width="7.30" height="2.90" fill="#0564d2"/>
<rect x="151.75" y="241.55" width="7.30" height="3.50" fill="#03459b"/>
<rect x="151.75" y="244.15" width="7.30" height="2.90" fill="#ff6e0f"/>
<rect x="151.75" y="246.15" width="7.30" height="5.60" fill="#ff3c30"/>
<rect x="151.75" y="250.85" width="7.30" height="3.60" fill="#e60f0f"/>
<rect x="151.75" y="253.55" width="7.30" height="2.20" fill="#ff3c30"/>
<rect x="151.75" y="254.85" width="7.30" height="15.60" fill="#ffa80f"/>
<rect x="158.15" y="237.55" width="7.30" height="2.90" fill="#0564d2"/>
<rect x="158.15" y="239.55" width="7.30" height="2.90" fill="#036403"/>
<rect x="158.15" y="241.55" width="7.30" height="3.50" fill="#c3dc14"/>
<rect x="158.15" y="244.15" width="7.30" height="2.90" fill="#ff6e0f"/>
<rect x="158.15" y="246.15" width="7.30" height="9.60" fill="#ff3c30"/>
<rect x="158.15" y="254.85" width="7.30" height="15.60" fill="#ff6e0f"/>
<rect x="164.55" y="233.55" width="7.30" height="4.90" fill="#0564d2"/>
<rect x="164.55" y="237.55" width="7.30" height="5.50" fill="#036403"/>
<rect x="164.55" y="242.15" width="7.30" height="2.90" fill="#e9f014"/>
<rect x="164.55" y="244.15" width="7.30" height="3.60" fill="#ff6e0f"/>
<rect x="164.55" y="246.85" width="7.30" height="15.60" fill="#ff3c30"/>
<rect x="170.95" y="233.55" width="7.30" height="2.90" fill="#0564d2"/>
<rect x="170.95" y="235.55" width="7.30" height="2.90" fill="#64c81e"/>
<rect x="170.95" y="237.55" width="7.30" height="2.90" fill="#ffa80f"/>
<rect x="170.95" y="239.55" width="7.30" height="11.50" fill="#ff3c30"/>
<rect x="177.35" y="233.55" width="7.30" height="2.90" fill="#036403"/>
<rect x="177.35" y="235.55" width="7.30" height="2.90" fill="#ffa80f"/>
<rect x="177.35" y="237.55" width="7.30" height="2.90" fill="#ff6e0f"/>
<rect x="177.35" y="239.55" width="7.30" height="4.90" fill="#ff3c30"/>
<rect x="183.75" y="233.55" width="7.30" height="2.60" fill="#1496e6"/>
<rect x="183.75" y="235.25" width="7.30" height="3.20" fill="#e9f014"/>
<rect x="183.75" y="237.55" width="7.30" height="9.50" fill="#ffa80f"/>
<rect x="190.15" y="235.55" width="7.30" height="2.90" fill="#03459b"/>
<rect x="190.15" y="237.55" width="7.30" height="3.50" fill="#e9f014"/>
<rect x="190.15" y="240.15" width="7.30" height="8.90" fill="#ffa80f"/>
<rect x="196.55" y="233.55" width="7.30" height="2.90" fill="#1496e6"/>
<rect x="196.55" y="235.55" width="7.30" height="2.90" fill="#c3dc14"/>
<rect x="196.55" y="237.55" width="7.30" height="5.50" fill="#e9f014"/>
<rect x="196.55" y="242.15" width="7.30" height="4.90" fill="#ffa80f"/>
<rect x="202.95" y="233.55" width="7.30" height="2.90" fill="#036403"/>
<rect x="202.95" y="235.55" width="7.30" height="3.50" fill="#c3dc14"/>
<rect x="202.95" y="238.15" width="7.30" height="5.60" fill="#e9f014"/>
<rect x="209.35" y="231.55" width="7.30" height="2.90" fill="#1496e6"/>
<rect x="209.35" y="233.55" width="7.30" height="4.90" fill="#036403"/>
<rect x="209.35" y="237.55" width="7.30" height="3.50" fill="#c3dc14"/>
<rect x="209.35" y="240.15" width="7.30" height="4.30" fill="#ffa80f"/>
<rect x="215.75" y="226.55" width="7.30" height="3.90" fill="#0564d2"/>
<rect x="215.75" y="229.55" width="7.30" height="5.90" fill="#036403"/>
<rect x="215.75" y="234.55" width="7.30" height="3.90" fill="#0a960a"/>
<rect x="215.75" y="237.55" width="7.30" height="9.90" fill="#c3dc14"/>
<rect x="215.75" y="246.55" width="7.30" height="3.40" fill="#ffa80f"/>
<rect x="215.75" y="249.05" width="7.30" height="2.90" fill="#c3dc14"/>
<rect x="222.15" y="224.75" width="7.30" height="4.10" fill="#0564d2"/>
<rect x="222.15" y="227.95" width="7.30" height="5.70" fill="#036403"/>
<rect x="222.15" y="232.75" width="7.30" height="5.00" fill="#0a960a"/>
<rect x="222.15" y="236.85" width="7.30" height="3.60" fill="#c3dc14"/>
<rect x="222.15" y="239.55" width="7.30" height="10.90" fill="#e9f014"/>
<rect x="222.15" y="249.55" width="7.30" height="4.20" fill="#c3dc14"/>
<rect x="222.15" y="252.85" width="7.30" height="7.40" fill="#036403"/>
<rect x="222.15" y="259.35" width="7.30" height="5.70" fill="#03459b"/>
<rect x="228.55" y="224.75" width="7.30" height="6.50" fill="#0564d2"/>
<rect x="228.55" y="230.35" width="7.30" height="5.80" fill="#036403"/>
<rect x="228.55" y="235.25" width="7.30" height="5.70" fill="#057a05"/>
<rect x="228.55" y="240.05" width="7.30" height="4.10" fill="#64c81e"/>
<rect x="228.55" y="243.25" width="7.30" height="2.70" fill="#c3dc14"/>
<rect x="228.55" y="245.05" width="7.30" height="7.40" fill="#e9f014"/>
<rect x="228.55" y="251.55" width="7.30" height="2.90" fill="#c3dc14"/>
<rect x="228.55" y="253.55" width="7.30" height="4.90" fill="#0a960a"/>
<rect x="228.55" y="257.55" width="7.30" height="4.30" fill="#036403"/>
<rect x="228.55" y="260.95" width="7.30" height="15.00" fill="#03459b"/>
<rect x="234.95" y="230.35" width="7.30" height="4.10" fill="#0564d2"/>
<rect x="234.95" y="233.55" width="7.30" height="4.20" fill="#03459b"/>
<rect x="234.95" y="236.85" width="7.30" height="6.50" fill="#036403"/>
<rect x="234.95" y="242.45" width="7.30" height="4.00" fill="#0a960a"/>
<rect x="234.95" y="245.55" width="7.30" height="3.40" fill="#64c81e"/>
<rect x="234.95" y="248.05" width="7.30" height="2.90" fill="#c3dc14"/>
<rect x="234.95" y="250.05" width="7.30" height="5.40" fill="#e9f014"/>
<rect x="234.95" y="254.55" width="7.30" height="3.90" fill="#c3dc14"/>
<rect x="234.95" y="257.55" width="7.30" height="4.30" fill="#0a960a"/>
<rect x="234.95" y="260.95" width="7.30" height="4.10" fill="#036403"/>
<rect x="234.95" y="264.15" width="7.30" height="14.10" fill="#03459b"/>
<rect x="241.35" y="232.75" width="7.30" height="5.00" fill="#0564d2"/>
<rect x="241.35" y="236.85" width="7.30" height="3.30" fill="#03459b"/>
<rect x="241.35" y="239.25" width="7.30" height="8.20" fill="#036403"/>
<rect x="241.35" y="246.55" width="7.30" height="3.90" fill="#0a960a"/>
<rect x="241.35" y="249.55" width="7.30" height="10.70" fill="#64c81e"/>
<rect x="241.35" y="259.35" width="7.30" height="4.10" fill="#0a960a"/>
<rect x="241.35" y="262.55" width="7.30" height="3.30" fill="#036403"/>
<rect x="241.35" y="264.95" width="7.30" height="13.30" fill="#03459b"/>
<rect x="247.75" y="236.05" width="7.30" height="4.90" fill="#0564d2"/>
<rect x="247.75" y="240.05" width="7.30" height="4.10" fill="#03459b"/>
<rect x="247.75" y="243.25" width="7.30" height="7.20" fill="#036403"/>
<rect x="247.75" y="249.55" width="7.30" height="11.50" fill="#0a960a"/>
<rect x="247.75" y="260.15" width="7.30" height="5.70" fill="#036403"/>
<rect x="247.75" y="264.95" width="7.30" height="10.50" fill="#03459b"/>
<rect x="254.15" y="236.05" width="7.30" height="5.70" fill="#0564d2"/>
<rect x="254.15" y="240.85" width="7.30" height="5.60" fill="#03459b"/>
<rect x="254.15" y="245.55" width="7.30" height="11.40" fill="#036403"/>
<rect x="254.15" y="256.05" width="7.30" height="4.20" fill="#057a05"/>
<rect x="254.15" y="259.35" width="7.30" height="3.30" fill="#036403"/>
<rect x="254.15" y="261.75" width="7.30" height="8.20" fill="#03459b"/>
<rect x="260.55" y="242.55" width="7.30" height="5.60" fill="#0564d2"/>
<rect x="260.55" y="247.25" width="7.30" height="7.20" fill="#03459b"/>
<rect x="260.55" y="253.55" width="7.30" height="4.90" fill="#036403"/>
<rect x="260.55" y="257.55" width="7.30" height="7.90" fill="#03459b"/>
<rect x="266.95" y="242.55" width="4.80" height="5.60" fill="#0564d2"/>
<rect x="266.95" y="247.25" width="4.80" height="20.20" fill="#03459b"/>
<rect x="62.60" y="234.00" width="6.40" height="4.00" fill="#0564d2"/>
<rect x="62.60" y="238.00" width="6.40" height="6.60" fill="#03459b"/>
<rect x="69.00" y="232.00" width="6.40" height="2.00" fill="#03459b"/>
<rect x="69.00" y="234.00" width="6.40" height="3.30" fill="#057a05"/>
<rect x="69.00" y="237.30" width="6.40" height="5.30" fill="#64c81e"/>
<rect x="69.00" y="242.60" width="6.40" height="4.00" fill="#036403"/>
<rect x="69.00" y="246.60" width="6.40" height="9.40" fill="#0564d2"/>
<rect x="69.00" y="256.00" width="6.40" height="2.00" fill="#1496e6"/>
<rect x="75.40" y="232.00" width="6.40" height="2.60" fill="#036403"/>
<rect x="75.40" y="234.60" width="6.40" height="2.70" fill="#e9f014"/>
<rect x="75.40" y="237.30" width="6.40" height="2.00" fill="#ffa80f"/>
<rect x="75.40" y="239.30" width="6.40" height="2.70" fill="#ff6e0f"/>
<rect x="75.40" y="242.00" width="6.40" height="4.60" fill="#ff3c30"/>
<rect x="75.40" y="246.60" width="6.40" height="4.00" fill="#ff6e0f"/>
<rect x="75.40" y="250.60" width="6.40" height="3.40" fill="#036403"/>
<rect x="75.40" y="254.00" width="6.40" height="4.60" fill="#0564d2"/>
<rect x="75.40" y="258.60" width="6.40" height="9.90" fill="#03459b"/>
<rect x="81.80" y="234.00" width="6.40" height="3.30" fill="#0564d2"/>
<rect x="81.80" y="237.30" width="6.40" height="2.00" fill="#ffa80f"/>
<rect x="81.80" y="239.30" width="6.40" height="2.70" fill="#ff6e0f"/>
<rect x="81.80" y="242.00" width="6.40" height="11.30" fill="#ff3c30"/>
<rect x="81.80" y="253.30" width="6.40" height="3.90" fill="#ff6e0f"/>
<rect x="81.80" y="257.20" width="6.40" height="2.80" fill="#e9f014"/>
<rect x="81.80" y="260.00" width="6.40" height="2.00" fill="#036403"/>
<rect x="81.80" y="262.00" width="6.40" height="6.50" fill="#64c81e"/>
<rect x="88.20" y="234.00" width="6.40" height="3.30" fill="#036403"/>
<rect x="88.20" y="237.30" width="6.40" height="2.70" fill="#e9f014"/>
<rect x="88.20" y="240.00" width="6.40" height="2.60" fill="#ff6e0f"/>
<rect x="88.20" y="242.60" width="6.40" height="1.40" fill="#ff3c30"/>
<rect x="88.20" y="244.00" width="6.40" height="16.00" fill="#e60f0f"/>
<rect x="88.20" y="260.00" width="6.40" height="8.50" fill="#ff3c30"/>
<rect x="94.60" y="232.00" width="6.40" height="2.00" fill="#0564d2"/>
<rect x="94.60" y="234.00" width="6.40" height="3.30" fill="#64c81e"/>
<rect x="94.60" y="237.30" width="6.40" height="2.00" fill="#ffa80f"/>
<rect x="94.60" y="239.30" width="6.40" height="4.70" fill="#ff3c30"/>
<rect x="94.60" y="244.00" width="6.40" height="10.00" fill="#e60f0f"/>
<rect x="94.60" y="254.00" width="6.40" height="8.60" fill="#a82020"/>
<rect x="94.60" y="262.60" width="6.40" height="6.40" fill="#e60f0f"/>
<rect x="101.00" y="234.00" width="6.40" height="2.60" fill="#036403"/>
<rect x="101.00" y="236.60" width="6.40" height="2.70" fill="#ff6e0f"/>
<rect x="101.00" y="239.30" width="6.40" height="7.30" fill="#ff3c30"/>
<rect x="101.00" y="246.60" width="6.40" height="10.60" fill="#e60f0f"/>
<rect x="101.00" y="257.20" width="6.40" height="6.80" fill="#a82020"/>
<rect x="101.00" y="264.00" width="6.40" height="6.00" fill="#e60f0f"/>
<rect x="107.40" y="234.00" width="6.40" height="2.00" fill="#0564d2"/>
<rect x="107.40" y="236.00" width="6.40" height="2.00" fill="#036403"/>
<rect x="107.40" y="238.00" width="6.40" height="3.30" fill="#e9f014"/>
<rect x="107.40" y="241.30" width="6.40" height="3.30" fill="#ff6e0f"/>
<rect x="107.40" y="244.60" width="6.40" height="11.40" fill="#ff3c30"/>
<rect x="107.40" y="256.00" width="6.40" height="14.00" fill="#e60f0f"/>
<rect x="113.80" y="234.00" width="6.40" height="2.00" fill="#0564d2"/>
<rect x="113.80" y="236.00" width="6.40" height="4.60" fill="#036403"/>
<rect x="113.80" y="240.60" width="6.40" height="3.40" fill="#c3dc14"/>
<rect x="113.80" y="244.00" width="6.40" height="11.30" fill="#e9f014"/>
<rect x="113.80" y="255.30" width="6.40" height="2.70" fill="#ff6e0f"/>
<rect x="113.80" y="258.00" width="6.40" height="2.60" fill="#ff3c30"/>
<rect x="113.80" y="260.60" width="6.40" height="9.40" fill="#e60f0f"/>
<rect x="120.20" y="234.00" width="6.40" height="2.00" fill="#0564d2"/>
<rect x="120.20" y="236.00" width="6.40" height="7.30" fill="#036403"/>
<rect x="120.20" y="243.30" width="6.40" height="4.00" fill="#64c81e"/>
<rect x="120.20" y="247.30" width="6.40" height="6.70" fill="#057a05"/>
<rect x="120.20" y="254.00" width="6.40" height="3.20" fill="#e9f014"/>
<rect x="120.20" y="257.20" width="6.40" height="3.40" fill="#ff3c30"/>
<rect x="120.20" y="260.60" width="6.40" height="9.40" fill="#e60f0f"/>
<rect x="126.60" y="234.00" width="6.40" height="4.00" fill="#036403"/>
<rect x="126.60" y="238.00" width="6.40" height="2.60" fill="#e9f014"/>
<rect x="126.60" y="240.60" width="6.40" height="2.70" fill="#ffa80f"/>
<rect x="126.60" y="243.30" width="6.40" height="7.30" fill="#ff6e0f"/>
<rect x="126.60" y="250.60" width="6.40" height="4.70" fill="#e9f014"/>
<rect x="126.60" y="255.30" width="6.40" height="1.90" fill="#ff6e0f"/>
<rect x="126.60" y="257.20" width="6.40" height="12.80" fill="#ff3c30"/>
<rect x="133.00" y="234.00" width="6.40" height="4.00" fill="#036403"/>
<rect x="133.00" y="238.00" width="6.40" height="2.60" fill="#e9f014"/>
<rect x="133.00" y="240.60" width="6.40" height="2.00" fill="#ff6e0f"/>
<rect x="133.00" y="242.60" width="6.40" height="4.00" fill="#ff3c30"/>
<rect x="133.00" y="246.60" width="6.40" height="2.70" fill="#e60f0f"/>
<rect x="133.00" y="249.30" width="6.40" height="5.30" fill="#ff3c30"/>
<rect x="133.00" y="254.60" width="6.40" height="15.40" fill="#ffa80f"/>
<rect x="139.40" y="236.00" width="6.40" height="2.00" fill="#0564d2"/>
<rect x="139.40" y="238.00" width="6.40" height="2.00" fill="#036403"/>
<rect x="139.40" y="240.00" width="6.40" height="2.00" fill="#e9f014"/>
<rect x="139.40" y="242.00" width="6.40" height="2.60" fill="#ff6e0f"/>
<rect x="139.40" y="244.60" width="6.40" height="2.70" fill="#ff3c30"/>
<rect x="139.40" y="247.30" width="6.40" height="2.00" fill="#e60f0f"/>
<rect x="139.40" y="249.30" width="6.40" height="6.00" fill="#ff3c30"/>
<rect x="139.40" y="255.30" width="6.40" height="1.90" fill="#e9f014"/>
<rect x="139.40" y="257.20" width="6.40" height="12.80" fill="#c3dc14"/>
<rect x="145.80" y="240.00" width="6.40" height="2.00" fill="#0564d2"/>
<rect x="145.80" y="242.00" width="6.40" height="2.60" fill="#036403"/>
<rect x="145.80" y="244.60" width="6.40" height="1.40" fill="#ff6e0f"/>
<rect x="145.80" y="246.00" width="6.40" height="9.30" fill="#ff3c30"/>
<rect x="145.80" y="255.30" width="6.40" height="14.70" fill="#e9f014"/>
<rect x="152.20" y="240.00" width="6.40" height="2.00" fill="#0564d2"/>
<rect x="152.20" y="242.00" width="6.40" height="2.60" fill="#03459b"/>
<rect x="152.20" y="244.60" width="6.40" height="2.00" fill="#ff6e0f"/>
<rect x="152.20" y="246.60" width="6.40" height="4.70" fill="#ff3c30"/>
<rect x="152.20" y="251.30" width="6.40" height="2.70" fill="#e60f0f"/>
<rect x="152.20" y="254.00" width="6.40" height="1.30" fill="#ff3c30"/>
<rect x="152.20" y="255.30" width="6.40" height="14.70" fill="#ffa80f"/>
<rect x="158.60" y="238.00" width="6.40" height="2.00" fill="#0564d2"/>
<rect x="158.60" y="240.00" width="6.40" height="2.00" fill="#036403"/>
<rect x="158.60" y="242.00" width="6.40" height="2.60" fill="#c3dc14"/>
<rect x="158.60" y="244.60" width="6.40" height="2.00" fill="#ff6e0f"/>
<rect x="158.60" y="246.60" width="6.40" height="8.70" fill="#ff3c30"/>
<rect x="158.60" y="255.30" width="6.40" height="14.70" fill="#ff6e0f"/>
<rect x="165.00" y="234.00" width="6.40" height="4.00" fill="#0564d2"/>
<rect x="165.00" y="238.00" width="6.40" height="4.60" fill="#036403"/>
<rect x="165.00" y="242.60" width="6.40" height="2.00" fill="#e9f014"/>
<rect x="165.00" y="244.60" width="6.40" height="2.70" fill="#ff6e0f"/>
<rect x="165.00" y="247.30" width="6.40" height="14.70" fill="#ff3c30"/>
<rect x="171.40" y="234.00" width="6.40" height="2.00" fill="#0564d2"/>
<rect x="171.40" y="236.00" width="6.40" height="2.00" fill="#64c81e"/>
<rect x="171.40" y="238.00" width="6.40" height="2.00" fill="#ffa80f"/>
<rect x="171.40" y="240.00" width="6.40" height="10.60" fill="#ff3c30"/>
<rect x="177.80" y="234.00" width="6.40" height="2.00" fill="#036403"/>
<rect x="177.80" y="236.00" width="6.40" height="2.00" fill="#ffa80f"/>
<rect x="177.80" y="238.00" width="6.40" height="2.00" fill="#ff6e0f"/>
<rect x="177.80" y="240.00" width="6.40" height="4.00" fill="#ff3c30"/>
<rect x="184.20" y="234.00" width="6.40" height="1.70" fill="#1496e6"/>
<rect x="184.20" y="235.70" width="6.40" height="2.30" fill="#e9f014"/>
<rect x="184.20" y="238.00" width="6.40" height="8.60" fill="#ffa80f"/>
<rect x="190.60" y="236.00" width="6.40" height="2.00" fill="#03459b"/>
<rect x="190.60" y="238.00" width="6.40" height="2.60" fill="#e9f014"/>
<rect x="190.60" y="240.60" width="6.40" height="8.00" fill="#ffa80f"/>
<rect x="197.00" y="234.00" width="6.40" height="2.00" fill="#1496e6"/>
<rect x="197.00" y="236.00" width="6.40" height="2.00" fill="#c3dc14"/>
<rect x="197.00" y="238.00" width="6.40" height="4.60" fill="#e9f014"/>
<rect x="197.00" y="242.60" width="6.40" height="4.00" fill="#ffa80f"/>
<rect x="203.40" y="234.00" width="6.40" height="2.00" fill="#036403"/>
<rect x="203.40" y="236.00" width="6.40" height="2.60" fill="#c3dc14"/>
<rect x="203.40" y="238.60" width="6.40" height="4.70" fill="#e9f014"/>
<rect x="209.80" y="232.00" width="6.40" height="2.00" fill="#1496e6"/>
<rect x="209.80" y="234.00" width="6.40" height="4.00" fill="#036403"/>
<rect x="209.80" y="238.00" width="6.40" height="2.60" fill="#c3dc14"/>
<rect x="209.80" y="240.60" width="6.40" height="3.40" fill="#ffa80f"/>
<rect x="216.20" y="227.00" width="6.40" height="3.00" fill="#0564d2"/>
<rect x="216.20" y="230.00" width="6.40" height="5.00" fill="#036403"/>
<rect x="216.20" y="235.00" width="6.40" height="3.00" fill="#0a960a"/>
<rect x="216.20" y="238.00" width="6.40" height="9.00" fill="#c3dc14"/>
<rect x="216.20" y="247.00" width="6.40" height="2.50" fill="#ffa80f"/>
<rect x="216.20" y="249.50" width="6.40" height="2.00" fill="#c3dc14"/>
<rect x="222.60" y="225.20" width="6.40" height="3.20" fill="#0564d2"/>
<rect x="222.60" y="228.40" width="6.40" height="4.80" fill="#036403"/>
<rect x="222.60" y="233.20" width="6.40" height="4.10" fill="#0a960a"/>
<rect x="222.60" y="237.30" width="6.40" height="2.70" fill="#c3dc14"/>
<rect x="222.60" y="240.00" width="6.40" height="10.00" fill="#e9f014"/>
<rect x="222.60" y="250.00" width="6.40" height="3.30" fill="#c3dc14"/>
<rect x="222.60" y="253.30" width="6.40" height="6.50" fill="#036403"/>
<rect x="222.60" y="259.80" width="6.40" height="4.80" fill="#03459b"/>
<rect x="229.00" y="225.20" width="6.40" height="5.60" fill="#0564d2"/>
<rect x="229.00" y="230.80" width="6.40" height="4.90" fill="#036403"/>
<rect x="229.00" y="235.70" width="6.40" height="4.80" fill="#057a05"/>
<rect x="229.00" y="240.50" width="6.40" height="3.20" fill="#64c81e"/>
<rect x="229.00" y="243.70" width="6.40" height="1.80" fill="#c3dc14"/>
<rect x="229.00" y="245.50" width="6.40" height="6.50" fill="#e9f014"/>
<rect x="229.00" y="252.00" width="6.40" height="2.00" fill="#c3dc14"/>
<rect x="229.00" y="254.00" width="6.40" height="4.00" fill="#0a960a"/>
<rect x="229.00" y="258.00" width="6.40" height="3.40" fill="#036403"/>
<rect x="229.00" y="261.40" width="6.40" height="14.10" fill="#03459b"/>
<rect x="235.40" y="230.80" width="6.40" height="3.20" fill="#0564d2"/>
<rect x="235.40" y="234.00" width="6.40" height="3.30" fill="#03459b"/>
<rect x="235.40" y="237.30" width="6.40" height="5.60" fill="#036403"/>
<rect x="235.40" y="242.90" width="6.40" height="3.10" fill="#0a960a"/>
<rect x="235.40" y="246.00" width="6.40" height="2.50" fill="#64c81e"/>
<rect x="235.40" y="248.50" width="6.40" height="2.00" fill="#c3dc14"/>
<rect x="235.40" y="250.50" width="6.40" height="4.50" fill="#e9f014"/>
<rect x="235.40" y="255.00" width="6.40" height="3.00" fill="#c3dc14"/>
<rect x="235.40" y="258.00" width="6.40" height="3.40" fill="#0a960a"/>
<rect x="235.40" y="261.40" width="6.40" height="3.20" fill="#036403"/>
<rect x="235.40" y="264.60" width="6.40" height="13.20" fill="#03459b"/>
<rect x="241.80" y="233.20" width="6.40" height="4.10" fill="#0564d2"/>
<rect x="241.80" y="237.30" width="6.40" height="2.40" fill="#03459b"/>
<rect x="241.80" y="239.70" width="6.40" height="7.30" fill="#036403"/>
<rect x="241.80" y="247.00" width="6.40" height="3.00" fill="#0a960a"/>
<rect x="241.80" y="250.00" width="6.40" height="9.80" fill="#64c81e"/>
<rect x="241.80" y="259.80" width="6.40" height="3.20" fill="#0a960a"/>
<rect x="241.80" y="263.00" width="6.40" height="2.40" fill="#036403"/>
<rect x="241.80" y="265.40" width="6.40" height="12.40" fill="#03459b"/>
<rect x="248.20" y="236.50" width="6.40" height="4.00" fill="#0564d2"/>
<rect x="248.20" y="240.50" width="6.40" height="3.20" fill="#03459b"/>
<rect x="248.20" y="243.70" width="6.40" height="6.30" fill="#036403"/>
<rect x="248.20" y="250.00" width="6.40" height="10.60" fill="#0a960a"/>
<rect x="248.20" y="260.60" width="6.40" height="4.80" fill="#036403"/>
<rect x="248.20" y="265.40" width="6.40" height="9.60" fill="#03459b"/>
<rect x="254.60" y="236.50" width="6.40" height="4.80" fill="#0564d2"/>
<rect x="254.60" y="241.30" width="6.40" height="4.70" fill="#03459b"/>
<rect x="254.60" y="246.00" width="6.40" height="10.50" fill="#036403"/>
<rect x="254.60" y="256.50" width="6.40" height="3.30" fill="#057a05"/>
<rect x="254.60" y="259.80" width="6.40" height="2.40" fill="#036403"/>
<rect x="254.60" y="262.20" width="6.40" height="7.30" fill="#03459b"/>
<rect x="261.00" y="243.00" width="6.40" height="4.70" fill="#0564d2"/>
<rect x="261.00" y="247.70" width="6.40" height="6.30" fill="#03459b"/>
<rect x="261.00" y="254.00" width="6.40" height="4.00" fill="#036403"/>
<rect x="261.00" y="258.00" width="6.40" height="7.00" fill="#03459b"/>
<rect x="267.40" y="243.00" width="3.90" height="4.70" fill="#0564d2"/>
<rect x="267.40" y="247.70" width="3.90" height="19.30" fill="#03459b"/></g>
<g clip-path="url(#cd)"><rect x="339.75" y="233.55" width="7.30" height="4.90" fill="#0564d2"/>
<rect x="339.75" y="237.55" width="7.30" height="6.20" fill="#03459b"/>
<rect x="339.75" y="242.85" width="7.30" height="4.20" fill="#0564d2"/>
<rect x="346.15" y="233.55" width="7.30" height="4.90" fill="#0564d2"/>
<rect x="346.15" y="237.55" width="7.30" height="4.90" fill="#036403"/>
<rect x="346.15" y="241.55" width="7.30" height="5.50" fill="#64c81e"/>
<rect x="346.15" y="246.15" width="7.30" height="5.60" fill="#036403"/>
<rect x="346.15" y="250.85" width="7.30" height="2.90" fill="#0564d2"/>
<rect x="352.55" y="237.55" width="7.30" height="4.90" fill="#036403"/>
<rect x="352.55" y="241.55" width="7.30" height="3.50" fill="#e9f014"/>
<rect x="352.55" y="244.15" width="7.30" height="4.90" fill="#ffa80f"/>
<rect x="352.55" y="248.15" width="7.30" height="5.60" fill="#e9f014"/>
<rect x="352.55" y="252.85" width="7.30" height="4.80" fill="#057a05"/>
<rect x="352.55" y="256.75" width="7.30" height="3.70" fill="#036403"/>
<rect x="352.55" y="259.55" width="7.30" height="9.40" fill="#03459b"/>
<rect x="358.95" y="233.55" width="7.30" height="4.20" fill="#0564d2"/>
<rect x="358.95" y="236.85" width="7.30" height="5.60" fill="#036403"/>
<rect x="358.95" y="241.55" width="7.30" height="3.50" fill="#e9f014"/>
<rect x="358.95" y="244.15" width="7.30" height="2.90" fill="#ffa80f"/>
<rect x="358.95" y="246.15" width="7.30" height="8.30" fill="#ff6e0f"/>
<rect x="358.95" y="253.55" width="7.30" height="6.90" fill="#ff3c30"/>
<rect x="358.95" y="259.55" width="7.30" height="3.50" fill="#e9f014"/>
<rect x="358.95" y="262.15" width="7.30" height="6.80" fill="#64c81e"/>
<rect x="365.35" y="233.55" width="7.30" height="4.90" fill="#036403"/>
<rect x="365.35" y="237.55" width="7.30" height="2.90" fill="#c3dc14"/>
<rect x="365.35" y="239.55" width="7.30" height="6.90" fill="#ffa80f"/>
<rect x="365.35" y="245.55" width="7.30" height="4.20" fill="#ff6e0f"/>
<rect x="365.35" y="248.85" width="7.30" height="12.80" fill="#ff3c30"/>
<rect x="365.35" y="260.75" width="7.30" height="3.70" fill="#ffa80f"/>
<rect x="365.35" y="263.55" width="7.30" height="5.40" fill="#e9f014"/>
<rect x="371.75" y="233.55" width="7.30" height="2.90" fill="#03459b"/>
<rect x="371.75" y="235.55" width="7.30" height="2.90" fill="#036403"/>
<rect x="371.75" y="237.55" width="7.30" height="2.90" fill="#c3dc14"/>
<rect x="371.75" y="239.55" width="7.30" height="2.90" fill="#e9f014"/>
<rect x="371.75" y="241.55" width="7.30" height="10.90" fill="#ffa80f"/>
<rect x="371.75" y="251.55" width="7.30" height="3.90" fill="#ff6e0f"/>
<rect x="371.75" y="254.55" width="7.30" height="15.90" fill="#ff3c30"/>
<rect x="378.15" y="233.55" width="7.30" height="4.20" fill="#0564d2"/>
<rect x="378.15" y="236.85" width="7.30" height="5.60" fill="#036403"/>
<rect x="378.15" y="241.55" width="7.30" height="16.90" fill="#c3dc14"/>
<rect x="378.15" y="257.55" width="7.30" height="4.90" fill="#ff6e0f"/>
<rect x="378.15" y="261.55" width="7.30" height="8.90" fill="#ff3c30"/>
<rect x="384.55" y="233.55" width="7.30" height="4.90" fill="#0564d2"/>
<rect x="384.55" y="237.55" width="7.30" height="7.50" fill="#036403"/>
<rect x="384.55" y="244.15" width="7.30" height="10.90" fill="#057a05"/>
<rect x="384.55" y="254.15" width="7.30" height="3.50" fill="#0a960a"/>
<rect x="384.55" y="256.75" width="7.30" height="2.90" fill="#e9f014"/>
<rect x="384.55" y="258.75" width="7.30" height="11.70" fill="#ff6e0f"/>
<rect x="390.95" y="233.55" width="7.30" height="4.90" fill="#0564d2"/>
<rect x="390.95" y="237.55" width="7.30" height="7.50" fill="#036403"/>
<rect x="390.95" y="244.15" width="7.30" height="9.60" fill="#03459b"/>
<rect x="390.95" y="252.85" width="7.30" height="4.80" fill="#0a960a"/>
<rect x="390.95" y="256.75" width="7.30" height="3.70" fill="#e9f014"/>
<rect x="390.95" y="259.55" width="7.30" height="10.90" fill="#ffa80f"/>
<rect x="397.35" y="233.55" width="7.30" height="4.20" fill="#0564d2"/>
<rect x="397.35" y="236.85" width="7.30" height="4.20" fill="#036403"/>
<rect x="397.35" y="240.15" width="7.30" height="10.90" fill="#64c81e"/>
<rect x="397.35" y="250.15" width="7.30" height="4.30" fill="#036403"/>
<rect x="397.35" y="253.55" width="7.30" height="4.10" fill="#0a960a"/>
<rect x="397.35" y="256.75" width="7.30" height="13.70" fill="#c3dc14"/>
<rect x="403.75" y="233.55" width="7.30" height="4.90" fill="#0564d2"/>
<rect x="403.75" y="237.55" width="7.30" height="4.20" fill="#036403"/>
<rect x="403.75" y="240.85" width="7.30" height="3.60" fill="#c3dc14"/>
<rect x="403.75" y="243.55" width="7.30" height="6.20" fill="#ffa80f"/>
<rect x="403.75" y="248.85" width="7.30" height="2.90" fill="#c3dc14"/>
<rect x="403.75" y="250.85" width="7.30" height="19.60" fill="#036403"/>
<rect x="410.15" y="236.85" width="7.30" height="3.60" fill="#0564d2"/>
<rect x="410.15" y="239.55" width="7.30" height="4.90" fill="#036403"/>
<rect x="410.15" y="243.55" width="7.30" height="2.90" fill="#e9f014"/>
<rect x="410.15" y="245.55" width="7.30" height="3.50" fill="#ffa80f"/>
<rect x="410.15" y="248.15" width="7.30" height="2.90" fill="#e9f014"/>
<rect x="410.15" y="250.15" width="7.30" height="4.30" fill="#0a960a"/>
<rect x="410.15" y="253.55" width="7.30" height="16.90" fill="#036403"/>
<rect x="416.55" y="241.55" width="7.30" height="2.90" fill="#03459b"/>
<rect x="416.55" y="243.55" width="7.30" height="2.90" fill="#036403"/>
<rect x="416.55" y="245.55" width="7.30" height="2.20" fill="#e9f014"/>
<rect x="416.55" y="246.85" width="7.30" height="3.60" fill="#ffa80f"/>
<rect x="416.55" y="249.55" width="7.30" height="2.20" fill="#e9f014"/>
<rect x="416.55" y="250.85" width="7.30" height="5.60" fill="#0a960a"/>
<rect x="416.55" y="255.55" width="7.30" height="14.90" fill="#057a05"/>
<rect x="422.95" y="244.15" width="7.30" height="2.90" fill="#036403"/>
<rect x="422.95" y="246.15" width="7.30" height="2.90" fill="#c3dc14"/>
<rect x="422.95" y="248.15" width="7.30" height="6.30" fill="#e9f014"/>
<rect x="422.95" y="253.55" width="7.30" height="4.90" fill="#64c81e"/>
<rect x="422.95" y="257.55" width="7.30" height="12.90" fill="#0a960a"/>
<rect x="429.35" y="239.55" width="7.30" height="2.90" fill="#0564d2"/>
<rect x="429.35" y="241.55" width="7.30" height="4.20" fill="#036403"/>
<rect x="429.35" y="244.85" width="7.30" height="6.20" fill="#c3dc14"/>
<rect x="429.35" y="250.15" width="7.30" height="12.90" fill="#64c81e"/>
<rect x="429.35" y="262.15" width="7.30" height="8.30" fill="#c3dc14"/>
<rect x="435.75" y="237.55" width="7.30" height="4.90" fill="#0564d2"/>
<rect x="435.75" y="241.55" width="7.30" height="4.90" fill="#036403"/>
<rect x="435.75" y="245.55" width="7.30" height="3.50" fill="#c3dc14"/>
<rect x="435.75" y="248.15" width="7.30" height="14.90" fill="#e9f014"/>
<rect x="442.15" y="235.55" width="7.30" height="2.90" fill="#0564d2"/>
<rect x="442.15" y="237.55" width="7.30" height="2.90" fill="#036403"/>
<rect x="442.15" y="239.55" width="7.30" height="5.50" fill="#e9f014"/>
<rect x="442.15" y="244.15" width="7.30" height="7.60" fill="#ffa80f"/>
<rect x="448.55" y="233.55" width="7.30" height="2.90" fill="#0564d2"/>
<rect x="448.55" y="235.55" width="7.30" height="2.90" fill="#64c81e"/>
<rect x="448.55" y="237.55" width="7.30" height="6.90" fill="#e9f014"/>
<rect x="454.95" y="235.55" width="7.30" height="3.50" fill="#036403"/>
<rect x="454.95" y="238.15" width="7.30" height="8.90" fill="#0a960a"/>
<rect x="461.35" y="235.55" width="7.30" height="2.90" fill="#0564d2"/>
<rect x="461.35" y="237.55" width="7.30" height="3.50" fill="#036403"/>
<rect x="461.35" y="240.15" width="7.30" height="8.90" fill="#0a960a"/>
<rect x="467.75" y="235.55" width="7.30" height="4.20" fill="#036403"/>
<rect x="467.75" y="238.85" width="7.30" height="8.20" fill="#0a960a"/>
<rect x="474.15" y="233.55" width="7.30" height="2.90" fill="#0564d2"/>
<rect x="474.15" y="235.55" width="7.30" height="6.90" fill="#036403"/>
<rect x="474.15" y="241.55" width="7.30" height="2.20" fill="#0a960a"/>
<rect x="480.55" y="235.55" width="7.30" height="4.90" fill="#0564d2"/>
<rect x="480.55" y="239.55" width="7.30" height="4.90" fill="#036403"/>
<rect x="486.95" y="231.15" width="7.30" height="5.00" fill="#0564d2"/>
<rect x="486.95" y="235.25" width="7.30" height="4.90" fill="#03459b"/>
<rect x="486.95" y="239.25" width="7.30" height="12.20" fill="#036403"/>
<rect x="493.35" y="228.75" width="7.30" height="3.30" fill="#1496e6"/>
<rect x="493.35" y="231.15" width="7.30" height="5.80" fill="#0564d2"/>
<rect x="493.35" y="236.05" width="7.30" height="6.40" fill="#03459b"/>
<rect x="493.35" y="241.55" width="7.30" height="6.60" fill="#036403"/>
<rect x="493.35" y="247.25" width="7.30" height="9.70" fill="#03459b"/>
<rect x="493.35" y="256.05" width="7.30" height="4.20" fill="#1496e6"/>
<rect x="499.75" y="232.75" width="7.30" height="5.00" fill="#0564d2"/>
<rect x="499.75" y="236.85" width="7.30" height="10.60" fill="#03459b"/>
<rect x="499.75" y="246.55" width="7.30" height="7.20" fill="#036403"/>
<rect x="499.75" y="252.85" width="7.30" height="5.80" fill="#03459b"/>
<rect x="499.75" y="257.75" width="7.30" height="2.70" fill="#0564d2"/>
<rect x="499.75" y="259.55" width="7.30" height="3.10" fill="#1496e6"/>
<rect x="506.15" y="236.85" width="7.30" height="5.60" fill="#0564d2"/>
<rect x="506.15" y="241.55" width="7.30" height="18.70" fill="#03459b"/>
<rect x="506.15" y="259.35" width="7.30" height="2.90" fill="#0564d2"/>
<rect x="506.15" y="261.35" width="7.30" height="3.70" fill="#1496e6"/>
<rect x="512.55" y="239.25" width="7.30" height="4.90" fill="#0564d2"/>
<rect x="512.55" y="243.25" width="7.30" height="18.60" fill="#03459b"/>
<rect x="512.55" y="260.95" width="7.30" height="3.30" fill="#0564d2"/>
<rect x="512.55" y="263.35" width="7.30" height="4.10" fill="#1496e6"/>
<rect x="518.95" y="241.55" width="7.30" height="5.90" fill="#0564d2"/>
<rect x="518.95" y="246.55" width="7.30" height="9.60" fill="#03459b"/>
<rect x="518.95" y="255.25" width="7.30" height="6.70" fill="#0564d2"/>
<rect x="518.95" y="261.05" width="7.30" height="4.00" fill="#1496e6"/>
<rect x="525.35" y="248.85" width="7.30" height="13.00" fill="#1496e6"/>
<rect x="340.20" y="234.00" width="6.40" height="4.00" fill="#0564d2"/>
<rect x="340.20" y="238.00" width="6.40" height="5.30" fill="#03459b"/>
<rect x="340.20" y="243.30" width="6.40" height="3.30" fill="#0564d2"/>
<rect x="346.60" y="234.00" width="6.40" height="4.00" fill="#0564d2"/>
<rect x="346.60" y="238.00" width="6.40" height="4.00" fill="#036403"/>
<rect x="346.60" y="242.00" width="6.40" height="4.60" fill="#64c81e"/>
<rect x="346.60" y="246.60" width="6.40" height="4.70" fill="#036403"/>
<rect x="346.60" y="251.30" width="6.40" height="2.00" fill="#0564d2"/>
<rect x="353.00" y="238.00" width="6.40" height="4.00" fill="#036403"/>
<rect x="353.00" y="242.00" width="6.40" height="2.60" fill="#e9f014"/>
<rect x="353.00" y="244.60" width="6.40" height="4.00" fill="#ffa80f"/>
<rect x="353.00" y="248.60" width="6.40" height="4.70" fill="#e9f014"/>
<rect x="353.00" y="253.30" width="6.40" height="3.90" fill="#057a05"/>
<rect x="353.00" y="257.20" width="6.40" height="2.80" fill="#036403"/>
<rect x="353.00" y="260.00" width="6.40" height="8.50" fill="#03459b"/>
<rect x="359.40" y="234.00" width="6.40" height="3.30" fill="#0564d2"/>
<rect x="359.40" y="237.30" width="6.40" height="4.70" fill="#036403"/>
<rect x="359.40" y="242.00" width="6.40" height="2.60" fill="#e9f014"/>
<rect x="359.40" y="244.60" width="6.40" height="2.00" fill="#ffa80f"/>
<rect x="359.40" y="246.60" width="6.40" height="7.40" fill="#ff6e0f"/>
<rect x="359.40" y="254.00" width="6.40" height="6.00" fill="#ff3c30"/>
<rect x="359.40" y="260.00" width="6.40" height="2.60" fill="#e9f014"/>
<rect x="359.40" y="262.60" width="6.40" height="5.90" fill="#64c81e"/>
<rect x="365.80" y="234.00" width="6.40" height="4.00" fill="#036403"/>
<rect x="365.80" y="238.00" width="6.40" height="2.00" fill="#c3dc14"/>
<rect x="365.80" y="240.00" width="6.40" height="6.00" fill="#ffa80f"/>
<rect x="365.80" y="246.00" width="6.40" height="3.30" fill="#ff6e0f"/>
<rect x="365.80" y="249.30" width="6.40" height="11.90" fill="#ff3c30"/>
<rect x="365.80" y="261.20" width="6.40" height="2.80" fill="#ffa80f"/>
<rect x="365.80" y="264.00" width="6.40" height="4.50" fill="#e9f014"/>
<rect x="372.20" y="234.00" width="6.40" height="2.00" fill="#03459b"/>
<rect x="372.20" y="236.00" width="6.40" height="2.00" fill="#036403"/>
<rect x="372.20" y="238.00" width="6.40" height="2.00" fill="#c3dc14"/>
<rect x="372.20" y="240.00" width="6.40" height="2.00" fill="#e9f014"/>
<rect x="372.20" y="242.00" width="6.40" height="10.00" fill="#ffa80f"/>
<rect x="372.20" y="252.00" width="6.40" height="3.00" fill="#ff6e0f"/>
<rect x="372.20" y="255.00" width="6.40" height="15.00" fill="#ff3c30"/>
<rect x="378.60" y="234.00" width="6.40" height="3.30" fill="#0564d2"/>
<rect x="378.60" y="237.30" width="6.40" height="4.70" fill="#036403"/>
<rect x="378.60" y="242.00" width="6.40" height="16.00" fill="#c3dc14"/>
<rect x="378.60" y="258.00" width="6.40" height="4.00" fill="#ff6e0f"/>
<rect x="378.60" y="262.00" width="6.40" height="8.00" fill="#ff3c30"/>
<rect x="385.00" y="234.00" width="6.40" height="4.00" fill="#0564d2"/>
<rect x="385.00" y="238.00" width="6.40" height="6.60" fill="#036403"/>
<rect x="385.00" y="244.60" width="6.40" height="10.00" fill="#057a05"/>
<rect x="385.00" y="254.60" width="6.40" height="2.60" fill="#0a960a"/>
<rect x="385.00" y="257.20" width="6.40" height="2.00" fill="#e9f014"/>
<rect x="385.00" y="259.20" width="6.40" height="10.80" fill="#ff6e0f"/>
<rect x="391.40" y="234.00" width="6.40" height="4.00" fill="#0564d2"/>
<rect x="391.40" y="238.00" width="6.40" height="6.60" fill="#036403"/>
<rect x="391.40" y="244.60" width="6.40" height="8.70" fill="#03459b"/>
<rect x="391.40" y="253.30" width="6.40" height="3.90" fill="#0a960a"/>
<rect x="391.40" y="257.20" width="6.40" height="2.80" fill="#e9f014"/>
<rect x="391.40" y="260.00" width="6.40" height="10.00" fill="#ffa80f"/>
<rect x="397.80" y="234.00" width="6.40" height="3.30" fill="#0564d2"/>
<rect x="397.80" y="237.30" width="6.40" height="3.30" fill="#036403"/>
<rect x="397.80" y="240.60" width="6.40" height="10.00" fill="#64c81e"/>
<rect x="397.80" y="250.60" width="6.40" height="3.40" fill="#036403"/>
<rect x="397.80" y="254.00" width="6.40" height="3.20" fill="#0a960a"/>
<rect x="397.80" y="257.20" width="6.40" height="12.80" fill="#c3dc14"/>
<rect x="404.20" y="234.00" width="6.40" height="4.00" fill="#0564d2"/>
<rect x="404.20" y="238.00" width="6.40" height="3.30" fill="#036403"/>
<rect x="404.20" y="241.30" width="6.40" height="2.70" fill="#c3dc14"/>
<rect x="404.20" y="244.00" width="6.40" height="5.30" fill="#ffa80f"/>
<rect x="404.20" y="249.30" width="6.40" height="2.00" fill="#c3dc14"/>
<rect x="404.20" y="251.30" width="6.40" height="18.70" fill="#036403"/>
<rect x="410.60" y="237.30" width="6.40" height="2.70" fill="#0564d2"/>
<rect x="410.60" y="240.00" width="6.40" height="4.00" fill="#036403"/>
<rect x="410.60" y="244.00" width="6.40" height="2.00" fill="#e9f014"/>
<rect x="410.60" y="246.00" width="6.40" height="2.60" fill="#ffa80f"/>
<rect x="410.60" y="248.60" width="6.40" height="2.00" fill="#e9f014"/>
<rect x="410.60" y="250.60" width="6.40" height="3.40" fill="#0a960a"/>
<rect x="410.60" y="254.00" width="6.40" height="16.00" fill="#036403"/>
<rect x="417.00" y="242.00" width="6.40" height="2.00" fill="#03459b"/>
<rect x="417.00" y="244.00" width="6.40" height="2.00" fill="#036403"/>
<rect x="417.00" y="246.00" width="6.40" height="1.30" fill="#e9f014"/>
<rect x="417.00" y="247.30" width="6.40" height="2.70" fill="#ffa80f"/>
<rect x="417.00" y="250.00" width="6.40" height="1.30" fill="#e9f014"/>
<rect x="417.00" y="251.30" width="6.40" height="4.70" fill="#0a960a"/>
<rect x="417.00" y="256.00" width="6.40" height="14.00" fill="#057a05"/>
<rect x="423.40" y="244.60" width="6.40" height="2.00" fill="#036403"/>
<rect x="423.40" y="246.60" width="6.40" height="2.00" fill="#c3dc14"/>
<rect x="423.40" y="248.60" width="6.40" height="5.40" fill="#e9f014"/>
<rect x="423.40" y="254.00" width="6.40" height="4.00" fill="#64c81e"/>
<rect x="423.40" y="258.00" width="6.40" height="12.00" fill="#0a960a"/>
<rect x="429.80" y="240.00" width="6.40" height="2.00" fill="#0564d2"/>
<rect x="429.80" y="242.00" width="6.40" height="3.30" fill="#036403"/>
<rect x="429.80" y="245.30" width="6.40" height="5.30" fill="#c3dc14"/>
<rect x="429.80" y="250.60" width="6.40" height="12.00" fill="#64c81e"/>
<rect x="429.80" y="262.60" width="6.40" height="7.40" fill="#c3dc14"/>
<rect x="436.20" y="238.00" width="6.40" height="4.00" fill="#0564d2"/>
<rect x="436.20" y="242.00" width="6.40" height="4.00" fill="#036403"/>
<rect x="436.20" y="246.00" width="6.40" height="2.60" fill="#c3dc14"/>
<rect x="436.20" y="248.60" width="6.40" height="14.00" fill="#e9f014"/>
<rect x="442.60" y="236.00" width="6.40" height="2.00" fill="#0564d2"/>
<rect x="442.60" y="238.00" width="6.40" height="2.00" fill="#036403"/>
<rect x="442.60" y="240.00" width="6.40" height="4.60" fill="#e9f014"/>
<rect x="442.60" y="244.60" width="6.40" height="6.70" fill="#ffa80f"/>
<rect x="449.00" y="234.00" width="6.40" height="2.00" fill="#0564d2"/>
<rect x="449.00" y="236.00" width="6.40" height="2.00" fill="#64c81e"/>
<rect x="449.00" y="238.00" width="6.40" height="6.00" fill="#e9f014"/>
<rect x="455.40" y="236.00" width="6.40" height="2.60" fill="#036403"/>
<rect x="455.40" y="238.60" width="6.40" height="8.00" fill="#0a960a"/>
<rect x="461.80" y="236.00" width="6.40" height="2.00" fill="#0564d2"/>
<rect x="461.80" y="238.00" width="6.40" height="2.60" fill="#036403"/>
<rect x="461.80" y="240.60" width="6.40" height="8.00" fill="#0a960a"/>
<rect x="468.20" y="236.00" width="6.40" height="3.30" fill="#036403"/>
<rect x="468.20" y="239.30" width="6.40" height="7.30" fill="#0a960a"/>
<rect x="474.60" y="234.00" width="6.40" height="2.00" fill="#0564d2"/>
<rect x="474.60" y="236.00" width="6.40" height="6.00" fill="#036403"/>
<rect x="474.60" y="242.00" width="6.40" height="1.30" fill="#0a960a"/>
<rect x="481.00" y="236.00" width="6.40" height="4.00" fill="#0564d2"/>
<rect x="481.00" y="240.00" width="6.40" height="4.00" fill="#036403"/>
<rect x="487.40" y="231.60" width="6.40" height="4.10" fill="#0564d2"/>
<rect x="487.40" y="235.70" width="6.40" height="4.00" fill="#03459b"/>
<rect x="487.40" y="239.70" width="6.40" height="11.30" fill="#036403"/>
<rect x="493.80" y="229.20" width="6.40" height="2.40" fill="#1496e6"/>
<rect x="493.80" y="231.60" width="6.40" height="4.90" fill="#0564d2"/>
<rect x="493.80" y="236.50" width="6.40" height="5.50" fill="#03459b"/>
<rect x="493.80" y="242.00" width="6.40" height="5.70" fill="#036403"/>
<rect x="493.80" y="247.70" width="6.40" height="8.80" fill="#03459b"/>
<rect x="493.80" y="256.50" width="6.40" height="3.30" fill="#1496e6"/>
<rect x="500.20" y="233.20" width="6.40" height="4.10" fill="#0564d2"/>
<rect x="500.20" y="237.30" width="6.40" height="9.70" fill="#03459b"/>
<rect x="500.20" y="247.00" width="6.40" height="6.30" fill="#036403"/>
<rect x="500.20" y="253.30" width="6.40" height="4.90" fill="#03459b"/>
<rect x="500.20" y="258.20" width="6.40" height="1.80" fill="#0564d2"/>
<rect x="500.20" y="260.00" width="6.40" height="2.20" fill="#1496e6"/>
<rect x="506.60" y="237.30" width="6.40" height="4.70" fill="#0564d2"/>
<rect x="506.60" y="242.00" width="6.40" height="17.80" fill="#03459b"/>
<rect x="506.60" y="259.80" width="6.40" height="2.00" fill="#0564d2"/>
<rect x="506.60" y="261.80" width="6.40" height="2.80" fill="#1496e6"/>
<rect x="513.00" y="239.70" width="6.40" height="4.00" fill="#0564d2"/>
<rect x="513.00" y="243.70" width="6.40" height="17.70" fill="#03459b"/>
<rect x="513.00" y="261.40" width="6.40" height="2.40" fill="#0564d2"/>
<rect x="513.00" y="263.80" width="6.40" height="3.20" fill="#1496e6"/>
<rect x="519.40" y="242.00" width="6.40" height="5.00" fill="#0564d2"/>
<rect x="519.40" y="247.00" width="6.40" height="8.70" fill="#03459b"/>
<rect x="519.40" y="255.70" width="6.40" height="5.80" fill="#0564d2"/>
<rect x="519.40" y="261.50" width="6.40" height="3.10" fill="#1496e6"/>
<rect x="525.80" y="249.30" width="6.40" height="12.10" fill="#1496e6"/></g>
</g>
<rect x="32.3" y="23.5" width="232.2" height="106.1" fill="none" stroke="#505050" stroke-width="0.8"/>
<line x1="28.699999999999996" y1="125.50" x2="32.3" y2="125.50" stroke="#505050" stroke-width="0.8"/>
<text x="26.3" y="128.8" text-anchor="end" class="s" font-size="9.8" stroke="#111" stroke-width="0.15">0</text>
<line x1="30.499999999999996" y1="120.40" x2="32.3" y2="120.40" stroke="#777" stroke-width="0.6"/>
<line x1="30.499999999999996" y1="115.30" x2="32.3" y2="115.30" stroke="#777" stroke-width="0.6"/>
<line x1="30.499999999999996" y1="110.20" x2="32.3" y2="110.20" stroke="#777" stroke-width="0.6"/>
<line x1="28.699999999999996" y1="105.10" x2="32.3" y2="105.10" stroke="#505050" stroke-width="0.8"/>
<text x="26.3" y="108.4" text-anchor="end" class="s" font-size="9.8" stroke="#111" stroke-width="0.15">2</text>
<line x1="30.499999999999996" y1="100.00" x2="32.3" y2="100.00" stroke="#777" stroke-width="0.6"/>
<line x1="30.499999999999996" y1="94.90" x2="32.3" y2="94.90" stroke="#777" stroke-width="0.6"/>
<line x1="30.499999999999996" y1="89.80" x2="32.3" y2="89.80" stroke="#777" stroke-width="0.6"/>
<line x1="28.699999999999996" y1="84.70" x2="32.3" y2="84.70" stroke="#505050" stroke-width="0.8"/>
<text x="26.3" y="88.0" text-anchor="end" class="s" font-size="9.8" stroke="#111" stroke-width="0.15">4</text>
<line x1="30.499999999999996" y1="79.60" x2="32.3" y2="79.60" stroke="#777" stroke-width="0.6"/>
<line x1="30.499999999999996" y1="74.50" x2="32.3" y2="74.50" stroke="#777" stroke-width="0.6"/>
<line x1="30.499999999999996" y1="69.40" x2="32.3" y2="69.40" stroke="#777" stroke-width="0.6"/>
<line x1="28.699999999999996" y1="64.30" x2="32.3" y2="64.30" stroke="#505050" stroke-width="0.8"/>
<text x="26.3" y="67.6" text-anchor="end" class="s" font-size="9.8" stroke="#111" stroke-width="0.15">6</text>
<line x1="30.499999999999996" y1="59.20" x2="32.3" y2="59.20" stroke="#777" stroke-width="0.6"/>
<line x1="30.499999999999996" y1="54.10" x2="32.3" y2="54.10" stroke="#777" stroke-width="0.6"/>
<line x1="30.499999999999996" y1="49.00" x2="32.3" y2="49.00" stroke="#777" stroke-width="0.6"/>
<line x1="28.699999999999996" y1="43.90" x2="32.3" y2="43.90" stroke="#505050" stroke-width="0.8"/>
<text x="26.3" y="47.2" text-anchor="end" class="s" font-size="9.8" stroke="#111" stroke-width="0.15">8</text>
<line x1="30.499999999999996" y1="38.80" x2="32.3" y2="38.80" stroke="#777" stroke-width="0.6"/>
<line x1="30.499999999999996" y1="33.70" x2="32.3" y2="33.70" stroke="#777" stroke-width="0.6"/>
<line x1="30.499999999999996" y1="28.60" x2="32.3" y2="28.60" stroke="#777" stroke-width="0.6"/>
<line x1="28.699999999999996" y1="23.50" x2="32.3" y2="23.50" stroke="#505050" stroke-width="0.8"/>
<text x="26.3" y="26.8" text-anchor="end" class="s" font-size="9.8" stroke="#111" stroke-width="0.15">10</text>
<line x1="32.30" y1="129.6" x2="32.30" y2="133.2" stroke="#505050" stroke-width="0.8"/>
<text x="32.3" y="142.1" text-anchor="middle" class="s" font-size="8.4">37.0</text>
<text x="32.3" y="152.2" text-anchor="middle" class="s" font-size="8.4">86.9</text>
<line x1="67.80" y1="129.6" x2="67.80" y2="133.2" stroke="#505050" stroke-width="0.8"/>
<text x="67.8" y="142.1" text-anchor="middle" class="s" font-size="8.4">38.4</text>
<text x="67.8" y="152.2" text-anchor="middle" class="s" font-size="8.4">86.5</text>
<line x1="103.30" y1="129.6" x2="103.30" y2="133.2" stroke="#505050" stroke-width="0.8"/>
<text x="103.3" y="142.1" text-anchor="middle" class="s" font-size="8.4">39.8</text>
<text x="103.3" y="152.2" text-anchor="middle" class="s" font-size="8.4">86.1</text>
<line x1="138.80" y1="129.6" x2="138.80" y2="133.2" stroke="#505050" stroke-width="0.8"/>
<text x="138.8" y="142.1" text-anchor="middle" class="s" font-size="8.4">41.1</text>
<text x="138.8" y="152.2" text-anchor="middle" class="s" font-size="8.4">85.6</text>
<line x1="174.30" y1="129.6" x2="174.30" y2="133.2" stroke="#505050" stroke-width="0.8"/>
<text x="174.3" y="142.1" text-anchor="middle" class="s" font-size="8.4">42.5</text>
<text x="174.3" y="152.2" text-anchor="middle" class="s" font-size="8.4">85.2</text>
<line x1="209.80" y1="129.6" x2="209.80" y2="133.2" stroke="#505050" stroke-width="0.8"/>
<text x="209.8" y="142.1" text-anchor="middle" class="s" font-size="8.4">43.9</text>
<text x="209.8" y="152.2" text-anchor="middle" class="s" font-size="8.4">84.7</text>
<line x1="245.30" y1="129.6" x2="245.30" y2="133.2" stroke="#505050" stroke-width="0.8"/>
<text x="245.3" y="142.1" text-anchor="middle" class="s" font-size="8.4">45.3</text>
<text x="245.3" y="152.2" text-anchor="middle" class="s" font-size="8.4">84.2</text>
<text x="32.599999999999994" y="19.7" class="t" font-size="12.3">CALIPSO</text>
<text x="264.9" y="17.6" text-anchor="end" class="t" font-size="11.6">2020-04-11 07:13:28(UTC)</text>
<text x="37.099999999999994" y="36.6" class="t" font-size="13">(a)</text>
<text transform="translate(13.8,74.5) rotate(-90)" text-anchor="middle" class="t" font-size="10.4">Altitude (km)</text>
<rect x="304.5" y="22.0" width="237.79999999999995" height="109.30000000000001" fill="none" stroke="#505050" stroke-width="0.8"/>
<line x1="300.9" y1="131.30" x2="304.5" y2="131.30" stroke="#505050" stroke-width="0.8"/>
<text x="298.5" y="134.6" text-anchor="end" class="s" font-size="9.8" stroke="#111" stroke-width="0.15">0</text>
<line x1="302.7" y1="125.84" x2="304.5" y2="125.84" stroke="#777" stroke-width="0.6"/>
<line x1="302.7" y1="120.37" x2="304.5" y2="120.37" stroke="#777" stroke-width="0.6"/>
<line x1="302.7" y1="114.91" x2="304.5" y2="114.91" stroke="#777" stroke-width="0.6"/>
<line x1="300.9" y1="109.44" x2="304.5" y2="109.44" stroke="#505050" stroke-width="0.8"/>
<text x="298.5" y="112.7" text-anchor="end" class="s" font-size="9.8" stroke="#111" stroke-width="0.15">2</text>
<line x1="302.7" y1="103.98" x2="304.5" y2="103.98" stroke="#777" stroke-width="0.6"/>
<line x1="302.7" y1="98.51" x2="304.5" y2="98.51" stroke="#777" stroke-width="0.6"/>
<line x1="302.7" y1="93.05" x2="304.5" y2="93.05" stroke="#777" stroke-width="0.6"/>
<line x1="300.9" y1="87.58" x2="304.5" y2="87.58" stroke="#505050" stroke-width="0.8"/>
<text x="298.5" y="90.9" text-anchor="end" class="s" font-size="9.8" stroke="#111" stroke-width="0.15">4</text>
<line x1="302.7" y1="82.12" x2="304.5" y2="82.12" stroke="#777" stroke-width="0.6"/>
<line x1="302.7" y1="76.65" x2="304.5" y2="76.65" stroke="#777" stroke-width="0.6"/>
<line x1="302.7" y1="71.19" x2="304.5" y2="71.19" stroke="#777" stroke-width="0.6"/>
<line x1="300.9" y1="65.72" x2="304.5" y2="65.72" stroke="#505050" stroke-width="0.8"/>
<text x="298.5" y="69.0" text-anchor="end" class="s" font-size="9.8" stroke="#111" stroke-width="0.15">6</text>
<line x1="302.7" y1="60.25" x2="304.5" y2="60.25" stroke="#777" stroke-width="0.6"/>
<line x1="302.7" y1="54.79" x2="304.5" y2="54.79" stroke="#777" stroke-width="0.6"/>
<line x1="302.7" y1="49.33" x2="304.5" y2="49.33" stroke="#777" stroke-width="0.6"/>
<line x1="300.9" y1="43.86" x2="304.5" y2="43.86" stroke="#505050" stroke-width="0.8"/>
<text x="298.5" y="47.2" text-anchor="end" class="s" font-size="9.8" stroke="#111" stroke-width="0.15">8</text>
<line x1="302.7" y1="38.39" x2="304.5" y2="38.39" stroke="#777" stroke-width="0.6"/>
<line x1="302.7" y1="32.93" x2="304.5" y2="32.93" stroke="#777" stroke-width="0.6"/>
<line x1="302.7" y1="27.47" x2="304.5" y2="27.47" stroke="#777" stroke-width="0.6"/>
<line x1="300.9" y1="22.00" x2="304.5" y2="22.00" stroke="#505050" stroke-width="0.8"/>
<text x="298.5" y="25.3" text-anchor="end" class="s" font-size="9.8" stroke="#111" stroke-width="0.15">10</text>
<line x1="304.50" y1="131.3" x2="304.50" y2="134.9" stroke="#505050" stroke-width="0.8"/>
<text x="304.5" y="144.6" text-anchor="middle" class="s" font-size="8.4">36.9</text>
<text x="304.5" y="154.0" text-anchor="middle" class="s" font-size="8.4">86.8</text>
<line x1="330.26" y1="131.3" x2="330.26" y2="134.9" stroke="#505050" stroke-width="0.8"/>
<text x="330.3" y="144.6" text-anchor="middle" class="s" font-size="8.4">37.9</text>
<text x="330.3" y="154.0" text-anchor="middle" class="s" font-size="8.4">86.5</text>
<line x1="356.02" y1="131.3" x2="356.02" y2="134.9" stroke="#505050" stroke-width="0.8"/>
<text x="356.0" y="144.6" text-anchor="middle" class="s" font-size="8.4">38.8</text>
<text x="356.0" y="154.0" text-anchor="middle" class="s" font-size="8.4">86.3</text>
<line x1="381.78" y1="131.3" x2="381.78" y2="134.9" stroke="#505050" stroke-width="0.8"/>
<text x="381.8" y="144.6" text-anchor="middle" class="s" font-size="8.4">39.8</text>
<text x="381.8" y="154.0" text-anchor="middle" class="s" font-size="8.4">86.0</text>
<line x1="407.54" y1="131.3" x2="407.54" y2="134.9" stroke="#505050" stroke-width="0.8"/>
<text x="407.5" y="144.6" text-anchor="middle" class="s" font-size="8.4">40.8</text>
<text x="407.5" y="154.0" text-anchor="middle" class="s" font-size="8.4">85.7</text>
<line x1="433.30" y1="131.3" x2="433.30" y2="134.9" stroke="#505050" stroke-width="0.8"/>
<text x="433.3" y="144.6" text-anchor="middle" class="s" font-size="8.4">41.8</text>
<text x="433.3" y="154.0" text-anchor="middle" class="s" font-size="8.4">85.4</text>
<line x1="459.06" y1="131.3" x2="459.06" y2="134.9" stroke="#505050" stroke-width="0.8"/>
<text x="459.1" y="144.6" text-anchor="middle" class="s" font-size="8.4">42.7</text>
<text x="459.1" y="154.0" text-anchor="middle" class="s" font-size="8.4">85.1</text>
<line x1="484.82" y1="131.3" x2="484.82" y2="134.9" stroke="#505050" stroke-width="0.8"/>
<text x="484.8" y="144.6" text-anchor="middle" class="s" font-size="8.4">43.7</text>
<text x="484.8" y="154.0" text-anchor="middle" class="s" font-size="8.4">84.7</text>
<line x1="510.58" y1="131.3" x2="510.58" y2="134.9" stroke="#505050" stroke-width="0.8"/>
<text x="510.6" y="144.6" text-anchor="middle" class="s" font-size="8.4">44.7</text>
<text x="510.6" y="154.0" text-anchor="middle" class="s" font-size="8.4">84.4</text>
<line x1="536.34" y1="131.3" x2="536.34" y2="134.9" stroke="#505050" stroke-width="0.8"/>
<text x="536.3" y="144.6" text-anchor="middle" class="s" font-size="8.4">45.7</text>
<text x="536.3" y="154.0" text-anchor="middle" class="s" font-size="8.4">84.0</text>
<text x="304.8" y="17.6" class="t" font-size="12.3">CTL</text>
<text x="542.6999999999999" y="16.5" text-anchor="end" class="t" font-size="10.5">2020-04-11 07:00:00(UTC)</text>
<text x="309.3" y="35.1" class="t" font-size="13">(b)</text>
<text transform="translate(284.2,76.7) rotate(-90)" text-anchor="middle" class="t" font-size="10.4">Altitude (km)</text>
<rect x="33.3" y="172.0" width="238.0" height="109.30000000000001" fill="none" stroke="#505050" stroke-width="0.8"/>
<line x1="29.699999999999996" y1="281.30" x2="33.3" y2="281.30" stroke="#505050" stroke-width="0.8"/>
<text x="27.3" y="284.6" text-anchor="end" class="s" font-size="9.8" stroke="#111" stroke-width="0.15">0</text>
<line x1="31.499999999999996" y1="275.84" x2="33.3" y2="275.84" stroke="#777" stroke-width="0.6"/>
<line x1="31.499999999999996" y1="270.37" x2="33.3" y2="270.37" stroke="#777" stroke-width="0.6"/>
<line x1="31.499999999999996" y1="264.91" x2="33.3" y2="264.91" stroke="#777" stroke-width="0.6"/>
<line x1="29.699999999999996" y1="259.44" x2="33.3" y2="259.44" stroke="#505050" stroke-width="0.8"/>
<text x="27.3" y="262.7" text-anchor="end" class="s" font-size="9.8" stroke="#111" stroke-width="0.15">2</text>
<line x1="31.499999999999996" y1="253.98" x2="33.3" y2="253.98" stroke="#777" stroke-width="0.6"/>
<line x1="31.499999999999996" y1="248.51" x2="33.3" y2="248.51" stroke="#777" stroke-width="0.6"/>
<line x1="31.499999999999996" y1="243.05" x2="33.3" y2="243.05" stroke="#777" stroke-width="0.6"/>
<line x1="29.699999999999996" y1="237.58" x2="33.3" y2="237.58" stroke="#505050" stroke-width="0.8"/>
<text x="27.3" y="240.9" text-anchor="end" class="s" font-size="9.8" stroke="#111" stroke-width="0.15">4</text>
<line x1="31.499999999999996" y1="232.12" x2="33.3" y2="232.12" stroke="#777" stroke-width="0.6"/>
<line x1="31.499999999999996" y1="226.65" x2="33.3" y2="226.65" stroke="#777" stroke-width="0.6"/>
<line x1="31.499999999999996" y1="221.19" x2="33.3" y2="221.19" stroke="#777" stroke-width="0.6"/>
<line x1="29.699999999999996" y1="215.72" x2="33.3" y2="215.72" stroke="#505050" stroke-width="0.8"/>
<text x="27.3" y="219.0" text-anchor="end" class="s" font-size="9.8" stroke="#111" stroke-width="0.15">6</text>
<line x1="31.499999999999996" y1="210.25" x2="33.3" y2="210.25" stroke="#777" stroke-width="0.6"/>
<line x1="31.499999999999996" y1="204.79" x2="33.3" y2="204.79" stroke="#777" stroke-width="0.6"/>
<line x1="31.499999999999996" y1="199.32" x2="33.3" y2="199.32" stroke="#777" stroke-width="0.6"/>
<line x1="29.699999999999996" y1="193.86" x2="33.3" y2="193.86" stroke="#505050" stroke-width="0.8"/>
<text x="27.3" y="197.2" text-anchor="end" class="s" font-size="9.8" stroke="#111" stroke-width="0.15">8</text>
<line x1="31.499999999999996" y1="188.39" x2="33.3" y2="188.39" stroke="#777" stroke-width="0.6"/>
<line x1="31.499999999999996" y1="182.93" x2="33.3" y2="182.93" stroke="#777" stroke-width="0.6"/>
<line x1="31.499999999999996" y1="177.47" x2="33.3" y2="177.47" stroke="#777" stroke-width="0.6"/>
<line x1="29.699999999999996" y1="172.00" x2="33.3" y2="172.00" stroke="#505050" stroke-width="0.8"/>
<text x="27.3" y="175.3" text-anchor="end" class="s" font-size="9.8" stroke="#111" stroke-width="0.15">10</text>
<line x1="33.30" y1="281.3" x2="33.30" y2="284.90000000000003" stroke="#505050" stroke-width="0.8"/>
<text x="33.3" y="294.4" text-anchor="middle" class="s" font-size="8.4">36.9</text>
<text x="33.3" y="303.9" text-anchor="middle" class="s" font-size="8.4">86.8</text>
<line x1="59.06" y1="281.3" x2="59.06" y2="284.90000000000003" stroke="#505050" stroke-width="0.8"/>
<text x="59.1" y="294.4" text-anchor="middle" class="s" font-size="8.4">37.9</text>
<text x="59.1" y="303.9" text-anchor="middle" class="s" font-size="8.4">86.5</text>
<line x1="84.82" y1="281.3" x2="84.82" y2="284.90000000000003" stroke="#505050" stroke-width="0.8"/>
<text x="84.8" y="294.4" text-anchor="middle" class="s" font-size="8.4">38.8</text>
<text x="84.8" y="303.9" text-anchor="middle" class="s" font-size="8.4">86.3</text>
<line x1="110.58" y1="281.3" x2="110.58" y2="284.90000000000003" stroke="#505050" stroke-width="0.8"/>
<text x="110.6" y="294.4" text-anchor="middle" class="s" font-size="8.4">39.8</text>
<text x="110.6" y="303.9" text-anchor="middle" class="s" font-size="8.4">86.0</text>
<line x1="136.34" y1="281.3" x2="136.34" y2="284.90000000000003" stroke="#505050" stroke-width="0.8"/>
<text x="136.3" y="294.4" text-anchor="middle" class="s" font-size="8.4">40.8</text>
<text x="136.3" y="303.9" text-anchor="middle" class="s" font-size="8.4">85.7</text>
<line x1="162.10" y1="281.3" x2="162.10" y2="284.90000000000003" stroke="#505050" stroke-width="0.8"/>
<text x="162.1" y="294.4" text-anchor="middle" class="s" font-size="8.4">41.8</text>
<text x="162.1" y="303.9" text-anchor="middle" class="s" font-size="8.4">85.4</text>
<line x1="187.86" y1="281.3" x2="187.86" y2="284.90000000000003" stroke="#505050" stroke-width="0.8"/>
<text x="187.9" y="294.4" text-anchor="middle" class="s" font-size="8.4">42.7</text>
<text x="187.9" y="303.9" text-anchor="middle" class="s" font-size="8.4">85.1</text>
<line x1="213.62" y1="281.3" x2="213.62" y2="284.90000000000003" stroke="#505050" stroke-width="0.8"/>
<text x="213.6" y="294.4" text-anchor="middle" class="s" font-size="8.4">43.7</text>
<text x="213.6" y="303.9" text-anchor="middle" class="s" font-size="8.4">84.7</text>
<line x1="239.38" y1="281.3" x2="239.38" y2="284.90000000000003" stroke="#505050" stroke-width="0.8"/>
<text x="239.4" y="294.4" text-anchor="middle" class="s" font-size="8.4">44.7</text>
<text x="239.4" y="303.9" text-anchor="middle" class="s" font-size="8.4">84.4</text>
<line x1="265.14" y1="281.3" x2="265.14" y2="284.90000000000003" stroke="#505050" stroke-width="0.8"/>
<text x="265.1" y="294.4" text-anchor="middle" class="s" font-size="8.4">45.7</text>
<text x="265.1" y="303.9" text-anchor="middle" class="s" font-size="8.4">84.0</text>
<text x="33.599999999999994" y="167.8" class="t" font-size="12.3">DoubleDust</text>
<text x="271.7" y="166.0" text-anchor="end" class="t" font-size="10.5">2020-04-11 07:00:00(UTC)</text>
<text x="38.099999999999994" y="185.1" class="t" font-size="13">(c)</text>
<text transform="translate(14.5,226.7) rotate(-90)" text-anchor="middle" class="t" font-size="10.4">Altitude (km)</text>
<rect x="304.5" y="172.0" width="237.79999999999995" height="109.30000000000001" fill="none" stroke="#505050" stroke-width="0.8"/>
<line x1="300.9" y1="281.30" x2="304.5" y2="281.30" stroke="#505050" stroke-width="0.8"/>
<text x="298.5" y="284.6" text-anchor="end" class="s" font-size="9.8" stroke="#111" stroke-width="0.15">0</text>
<line x1="302.7" y1="275.84" x2="304.5" y2="275.84" stroke="#777" stroke-width="0.6"/>
<line x1="302.7" y1="270.37" x2="304.5" y2="270.37" stroke="#777" stroke-width="0.6"/>
<line x1="302.7" y1="264.91" x2="304.5" y2="264.91" stroke="#777" stroke-width="0.6"/>
<line x1="300.9" y1="259.44" x2="304.5" y2="259.44" stroke="#505050" stroke-width="0.8"/>
<text x="298.5" y="262.7" text-anchor="end" class="s" font-size="9.8" stroke="#111" stroke-width="0.15">2</text>
<line x1="302.7" y1="253.98" x2="304.5" y2="253.98" stroke="#777" stroke-width="0.6"/>
<line x1="302.7" y1="248.51" x2="304.5" y2="248.51" stroke="#777" stroke-width="0.6"/>
<line x1="302.7" y1="243.05" x2="304.5" y2="243.05" stroke="#777" stroke-width="0.6"/>
<line x1="300.9" y1="237.58" x2="304.5" y2="237.58" stroke="#505050" stroke-width="0.8"/>
<text x="298.5" y="240.9" text-anchor="end" class="s" font-size="9.8" stroke="#111" stroke-width="0.15">4</text>
<line x1="302.7" y1="232.12" x2="304.5" y2="232.12" stroke="#777" stroke-width="0.6"/>
<line x1="302.7" y1="226.65" x2="304.5" y2="226.65" stroke="#777" stroke-width="0.6"/>
<line x1="302.7" y1="221.19" x2="304.5" y2="221.19" stroke="#777" stroke-width="0.6"/>
<line x1="300.9" y1="215.72" x2="304.5" y2="215.72" stroke="#505050" stroke-width="0.8"/>
<text x="298.5" y="219.0" text-anchor="end" class="s" font-size="9.8" stroke="#111" stroke-width="0.15">6</text>
<line x1="302.7" y1="210.25" x2="304.5" y2="210.25" stroke="#777" stroke-width="0.6"/>
<line x1="302.7" y1="204.79" x2="304.5" y2="204.79" stroke="#777" stroke-width="0.6"/>
<line x1="302.7" y1="199.32" x2="304.5" y2="199.32" stroke="#777" stroke-width="0.6"/>
<line x1="300.9" y1="193.86" x2="304.5" y2="193.86" stroke="#505050" stroke-width="0.8"/>
<text x="298.5" y="197.2" text-anchor="end" class="s" font-size="9.8" stroke="#111" stroke-width="0.15">8</text>
<line x1="302.7" y1="188.39" x2="304.5" y2="188.39" stroke="#777" stroke-width="0.6"/>
<line x1="302.7" y1="182.93" x2="304.5" y2="182.93" stroke="#777" stroke-width="0.6"/>
<line x1="302.7" y1="177.47" x2="304.5" y2="177.47" stroke="#777" stroke-width="0.6"/>
<line x1="300.9" y1="172.00" x2="304.5" y2="172.00" stroke="#505050" stroke-width="0.8"/>
<text x="298.5" y="175.3" text-anchor="end" class="s" font-size="9.8" stroke="#111" stroke-width="0.15">10</text>
<line x1="304.50" y1="281.3" x2="304.50" y2="284.90000000000003" stroke="#505050" stroke-width="0.8"/>
<text x="304.5" y="294.4" text-anchor="middle" class="s" font-size="8.4">36.9</text>
<text x="304.5" y="303.9" text-anchor="middle" class="s" font-size="8.4">86.8</text>
<line x1="330.26" y1="281.3" x2="330.26" y2="284.90000000000003" stroke="#505050" stroke-width="0.8"/>
<text x="330.3" y="294.4" text-anchor="middle" class="s" font-size="8.4">37.9</text>
<text x="330.3" y="303.9" text-anchor="middle" class="s" font-size="8.4">86.5</text>
<line x1="356.02" y1="281.3" x2="356.02" y2="284.90000000000003" stroke="#505050" stroke-width="0.8"/>
<text x="356.0" y="294.4" text-anchor="middle" class="s" font-size="8.4">38.8</text>
<text x="356.0" y="303.9" text-anchor="middle" class="s" font-size="8.4">86.3</text>
<line x1="381.78" y1="281.3" x2="381.78" y2="284.90000000000003" stroke="#505050" stroke-width="0.8"/>
<text x="381.8" y="294.4" text-anchor="middle" class="s" font-size="8.4">39.8</text>
<text x="381.8" y="303.9" text-anchor="middle" class="s" font-size="8.4">86.0</text>
<line x1="407.54" y1="281.3" x2="407.54" y2="284.90000000000003" stroke="#505050" stroke-width="0.8"/>
<text x="407.5" y="294.4" text-anchor="middle" class="s" font-size="8.4">40.8</text>
<text x="407.5" y="303.9" text-anchor="middle" class="s" font-size="8.4">85.7</text>
<line x1="433.30" y1="281.3" x2="433.30" y2="284.90000000000003" stroke="#505050" stroke-width="0.8"/>
<text x="433.3" y="294.4" text-anchor="middle" class="s" font-size="8.4">41.8</text>
<text x="433.3" y="303.9" text-anchor="middle" class="s" font-size="8.4">85.4</text>
<line x1="459.06" y1="281.3" x2="459.06" y2="284.90000000000003" stroke="#505050" stroke-width="0.8"/>
<text x="459.1" y="294.4" text-anchor="middle" class="s" font-size="8.4">42.7</text>
<text x="459.1" y="303.9" text-anchor="middle" class="s" font-size="8.4">85.1</text>
<line x1="484.82" y1="281.3" x2="484.82" y2="284.90000000000003" stroke="#505050" stroke-width="0.8"/>
<text x="484.8" y="294.4" text-anchor="middle" class="s" font-size="8.4">43.7</text>
<text x="484.8" y="303.9" text-anchor="middle" class="s" font-size="8.4">84.7</text>
<line x1="510.58" y1="281.3" x2="510.58" y2="284.90000000000003" stroke="#505050" stroke-width="0.8"/>
<text x="510.6" y="294.4" text-anchor="middle" class="s" font-size="8.4">44.7</text>
<text x="510.6" y="303.9" text-anchor="middle" class="s" font-size="8.4">84.4</text>
<line x1="536.34" y1="281.3" x2="536.34" y2="284.90000000000003" stroke="#505050" stroke-width="0.8"/>
<text x="536.3" y="294.4" text-anchor="middle" class="s" font-size="8.4">45.7</text>
<text x="536.3" y="303.9" text-anchor="middle" class="s" font-size="8.4">84.0</text>
<text x="304.8" y="167.8" class="t" font-size="12.3">HalfDust</text>
<text x="542.6999999999999" y="166.0" text-anchor="end" class="t" font-size="10.5">2020-04-11 07:00:00(UTC)</text>
<text x="309.3" y="185.1" class="t" font-size="13">(d)</text>
<text transform="translate(284.2,226.7) rotate(-90)" text-anchor="middle" class="t" font-size="10.4">Altitude (km)</text>
<rect x="54.00" y="310.8" width="29.51" height="9.6" fill="#ffffff"/>
<rect x="83.41" y="310.8" width="29.51" height="9.6" fill="#1496e6"/>
<rect x="112.81" y="310.8" width="29.51" height="9.6" fill="#0564d2"/>
<rect x="142.22" y="310.8" width="29.51" height="9.6" fill="#03459b"/>
<rect x="171.63" y="310.8" width="29.51" height="9.6" fill="#036403"/>
<rect x="201.03" y="310.8" width="29.51" height="9.6" fill="#057a05"/>
<rect x="230.44" y="310.8" width="29.51" height="9.6" fill="#0a960a"/>
<rect x="259.85" y="310.8" width="29.51" height="9.6" fill="#64c81e"/>
<rect x="289.25" y="310.8" width="29.51" height="9.6" fill="#c3dc14"/>
<rect x="318.66" y="310.8" width="29.51" height="9.6" fill="#e9f014"/>
<rect x="348.07" y="310.8" width="29.51" height="9.6" fill="#ffa80f"/>
<rect x="377.47" y="310.8" width="29.51" height="9.6" fill="#ff6e0f"/>
<rect x="406.88" y="310.8" width="29.51" height="9.6" fill="#ff3c30"/>
<rect x="436.29" y="310.8" width="29.51" height="9.6" fill="#e60f0f"/>
<rect x="465.69" y="310.8" width="29.51" height="9.6" fill="#a82020"/>
<line x1="83.41" y1="310.8" x2="83.41" y2="320.4" stroke="#222" stroke-width="0.5" opacity="0.55"/>
<line x1="112.81" y1="310.8" x2="112.81" y2="320.4" stroke="#222" stroke-width="0.5" opacity="0.55"/>
<line x1="142.22" y1="310.8" x2="142.22" y2="320.4" stroke="#222" stroke-width="0.5" opacity="0.55"/>
<line x1="171.63" y1="310.8" x2="171.63" y2="320.4" stroke="#222" stroke-width="0.5" opacity="0.55"/>
<line x1="201.03" y1="310.8" x2="201.03" y2="320.4" stroke="#222" stroke-width="0.5" opacity="0.55"/>
<line x1="230.44" y1="310.8" x2="230.44" y2="320.4" stroke="#222" stroke-width="0.5" opacity="0.55"/>
<line x1="259.85" y1="310.8" x2="259.85" y2="320.4" stroke="#222" stroke-width="0.5" opacity="0.55"/>
<line x1="289.25" y1="310.8" x2="289.25" y2="320.4" stroke="#222" stroke-width="0.5" opacity="0.55"/>
<line x1="318.66" y1="310.8" x2="318.66" y2="320.4" stroke="#222" stroke-width="0.5" opacity="0.55"/>
<line x1="348.07" y1="310.8" x2="348.07" y2="320.4" stroke="#222" stroke-width="0.5" opacity="0.55"/>
<line x1="377.47" y1="310.8" x2="377.47" y2="320.4" stroke="#222" stroke-width="0.5" opacity="0.55"/>
<line x1="406.88" y1="310.8" x2="406.88" y2="320.4" stroke="#222" stroke-width="0.5" opacity="0.55"/>
<line x1="436.29" y1="310.8" x2="436.29" y2="320.4" stroke="#222" stroke-width="0.5" opacity="0.55"/>
<line x1="465.69" y1="310.8" x2="465.69" y2="320.4" stroke="#222" stroke-width="0.5" opacity="0.55"/>
<rect x="54" y="310.8" width="441.10" height="9.6" fill="none" stroke="#444" stroke-width="0.6"/>
<text x="83.4" y="332.7" text-anchor="middle" class="s" font-size="11.8">0.03</text>
<text x="112.8" y="332.7" text-anchor="middle" class="s" font-size="11.8">0.04</text>
<text x="142.2" y="332.7" text-anchor="middle" class="s" font-size="11.8">0.06</text>
<text x="171.6" y="332.7" text-anchor="middle" class="s" font-size="11.8">0.1</text>
<text x="201.0" y="332.7" text-anchor="middle" class="s" font-size="11.8">0.15</text>
<text x="230.4" y="332.7" text-anchor="middle" class="s" font-size="11.8">0.2</text>
<text x="259.8" y="332.7" text-anchor="middle" class="s" font-size="11.8">0.25</text>
<text x="289.3" y="332.7" text-anchor="middle" class="s" font-size="11.8">0.3</text>
<text x="318.7" y="332.7" text-anchor="middle" class="s" font-size="11.8">0.4</text>
<text x="348.1" y="332.7" text-anchor="middle" class="s" font-size="11.8">0.5</text>
<text x="377.5" y="332.7" text-anchor="middle" class="s" font-size="11.8">0.75</text>
<text x="406.9" y="332.7" text-anchor="middle" class="s" font-size="11.8">1</text>
<text x="436.3" y="332.7" text-anchor="middle" class="s" font-size="11.8">2</text>
<text x="465.7" y="332.7" text-anchor="middle" class="s" font-size="11.8">5</text>
<text x="276" y="353.2" text-anchor="middle" class="t" font-size="16.5">extinction coefficient (km<tspan dy="-6.2" font-size="9.5">-1</tspan><tspan dy="6.2">)</tspan></text>
</svg>
</body></html>
